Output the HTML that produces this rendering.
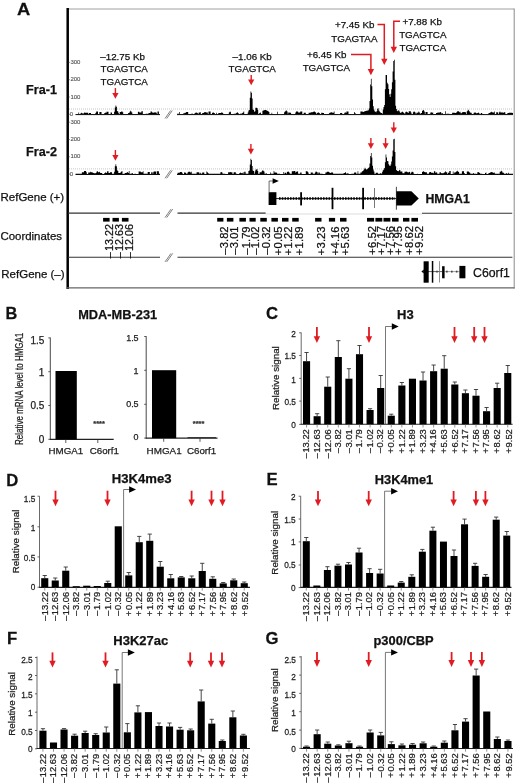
<!DOCTYPE html>
<html lang="en">
<head>
<meta charset="utf-8">
<title>Figure</title>
<style>
html,body{margin:0;padding:0;background:#fff;}
body{width:520px;height:784px;overflow:hidden;font-family:"Liberation Sans", Arial, sans-serif;}
svg{display:block;}
</style>
</head>
<body>
<svg width="520" height="784" viewBox="0 0 520 784" font-family='"Liberation Sans", Arial, sans-serif'>
<rect width="520" height="784" fill="#fff"/>
<line x1="68.00" y1="9.00" x2="514.20" y2="9.00" stroke="#a0a0a0" stroke-width="1"/>
<line x1="514.20" y1="8.50" x2="514.20" y2="288.50" stroke="#8a8a8a" stroke-width="1"/>
<line x1="67.70" y1="8.00" x2="67.70" y2="288.90" stroke="#000" stroke-width="2.5"/>
<line x1="67.00" y1="287.90" x2="514.60" y2="287.90" stroke="#666" stroke-width="1.3"/>
<text transform="translate(17.10,14.60) scale(1.080,1)" font-size="17" font-weight="bold" text-anchor="start" fill="#111" stroke="#111" stroke-width="0.25">A</text>
<text transform="translate(26.10,94.30)" font-size="12.6" font-weight="bold" text-anchor="start" fill="#111" stroke="#111" stroke-width="0.25">Fra-1</text>
<text transform="translate(26.10,156.10)" font-size="12.6" font-weight="bold" text-anchor="start" fill="#111" stroke="#111" stroke-width="0.25">Fra-2</text>
<text transform="translate(0.50,200.90)" font-size="11.5" text-anchor="start" fill="#111" stroke="#111" stroke-width="0.25">RefGene (+)</text>
<text transform="translate(0.40,240.00)" font-size="11.45" text-anchor="start" fill="#111" stroke="#111" stroke-width="0.25">Coordinates</text>
<text transform="translate(1.30,277.60)" font-size="11.5" text-anchor="start" fill="#111" stroke="#111" stroke-width="0.25">RefGene (–)</text>
<text transform="translate(122.60,59.50)" font-size="9.8" text-anchor="middle" fill="#111" stroke="#111" stroke-width="0.25">–12.75 Kb</text>
<text transform="translate(124.20,72.00)" font-size="9.8" text-anchor="middle" fill="#111" stroke="#111" stroke-width="0.25">TGAGTCA</text>
<text transform="translate(124.20,85.20)" font-size="9.8" text-anchor="middle" fill="#111" stroke="#111" stroke-width="0.25">TGAGTCA</text>
<text transform="translate(252.20,59.50)" font-size="9.8" text-anchor="middle" fill="#111" stroke="#111" stroke-width="0.25">–1.06 Kb</text>
<text transform="translate(252.20,72.00)" font-size="9.8" text-anchor="middle" fill="#111" stroke="#111" stroke-width="0.25">TGAGTCA</text>
<text transform="translate(326.70,57.50)" font-size="9.8" text-anchor="middle" fill="#111" stroke="#111" stroke-width="0.25">+6.45 Kb</text>
<text transform="translate(326.30,70.80)" font-size="9.8" text-anchor="middle" fill="#111" stroke="#111" stroke-width="0.25">TGAGTCA</text>
<text transform="translate(354.70,27.50)" font-size="9.8" text-anchor="middle" fill="#111" stroke="#111" stroke-width="0.25">+7.45 Kb</text>
<text transform="translate(354.40,41.50)" font-size="9.8" text-anchor="middle" fill="#111" stroke="#111" stroke-width="0.25">TGAGTAA</text>
<text transform="translate(422.20,24.50)" font-size="9.8" text-anchor="middle" fill="#111" stroke="#111" stroke-width="0.25">+7.88 Kb</text>
<text transform="translate(422.80,37.60)" font-size="9.8" text-anchor="middle" fill="#111" stroke="#111" stroke-width="0.25">TGAGTCA</text>
<text transform="translate(422.80,50.90)" font-size="9.8" text-anchor="middle" fill="#111" stroke="#111" stroke-width="0.25">TGACTCA</text>
<line x1="115.40" y1="88.00" x2="115.40" y2="94.00" stroke="#e01b22" stroke-width="1.4"/>
<path d="M112.30 93.00 L118.50 93.00 L115.40 98.80 Z" fill="#e01b22"/>
<line x1="251.20" y1="75.00" x2="251.20" y2="80.50" stroke="#e01b22" stroke-width="1.4"/>
<path d="M248.10 79.50 L254.30 79.50 L251.20 85.30 Z" fill="#e01b22"/>
<path d="M351.00 54.40 H370.90 V71.20" fill="none" stroke="#e01b22" stroke-width="1.5"/>
<path d="M367.70 69.00 L374.10 69.00 L370.90 75.20 Z" fill="#e01b22"/>
<path d="M377.50 24.60 H384.30 V61.00" fill="none" stroke="#e01b22" stroke-width="1.5"/>
<path d="M381.10 58.80 L387.50 58.80 L384.30 65.00 Z" fill="#e01b22"/>
<path d="M400.00 21.20 H393.80 V48.90" fill="none" stroke="#e01b22" stroke-width="1.5"/>
<path d="M390.60 46.70 L397.00 46.70 L393.80 52.90 Z" fill="#e01b22"/>
<line x1="115.40" y1="150.00" x2="115.40" y2="155.90" stroke="#e01b22" stroke-width="1.4"/>
<path d="M112.30 154.90 L118.50 154.90 L115.40 160.70 Z" fill="#e01b22"/>
<line x1="250.90" y1="144.00" x2="250.90" y2="149.80" stroke="#e01b22" stroke-width="1.4"/>
<path d="M247.80 148.80 L254.00 148.80 L250.90 154.60 Z" fill="#e01b22"/>
<line x1="370.90" y1="138.00" x2="370.90" y2="144.20" stroke="#e01b22" stroke-width="1.4"/>
<path d="M367.80 143.20 L374.00 143.20 L370.90 149.00 Z" fill="#e01b22"/>
<line x1="385.60" y1="138.00" x2="385.60" y2="144.20" stroke="#e01b22" stroke-width="1.4"/>
<path d="M382.50 143.20 L388.70 143.20 L385.60 149.00 Z" fill="#e01b22"/>
<line x1="393.80" y1="122.20" x2="393.80" y2="128.40" stroke="#e01b22" stroke-width="1.4"/>
<path d="M390.70 127.40 L396.90 127.40 L393.80 133.20 Z" fill="#e01b22"/>
<line x1="69.00" y1="109.00" x2="513.00" y2="109.00" stroke="#999" stroke-width="0.55" stroke-dasharray="1 1"/>
<path d="M75.6 114.6 H75.6 V114.10 H76.3 V113.99 H77.0 V113.99 H77.7 V113.99 H78.4 V112.49 H79.1 V114.02 H79.8 V113.98 H80.5 V113.28 H81.2 V112.82 H81.9 V113.00 H82.6 V113.89 H83.3 V113.15 H84.0 V112.48 H84.7 V112.84 H85.4 V112.84 H86.1 V112.84 H86.8 V112.76 H87.5 V112.76 H88.2 V113.94 H88.9 V112.90 H89.6 V112.90 H90.3 V112.90 H91.0 V114.06 H91.7 V114.06 H92.4 V114.06 H93.1 V114.06 H93.8 V114.08 H94.5 V114.08 H95.2 V113.16 H95.9 V112.15 H96.6 V111.00 H97.3 V111.69 H98.0 V113.92 H98.7 V113.92 H99.4 V111.89 H100.1 V111.89 H100.8 V111.89 H101.5 V113.98 H102.2 V113.98 H102.9 V113.98 H103.6 V114.04 H104.3 V113.11 H105.0 V112.52 H105.7 V113.04 H106.4 V111.83 H107.1 V111.83 H107.8 V111.83 H108.5 V113.93 H109.2 V113.93 H109.9 V113.93 H110.6 V112.41 H111.3 V112.41 H112.0 V114.03 H112.7 V114.03 H113.4 V114.03 H114.1 V111.84 H114.8 V107.44 H115.5 V105.52 H116.2 V106.82 H116.9 V110.96 H117.6 V111.61 H118.3 V113.37 H119.0 V114.10 H119.7 V112.07 H120.4 V112.07 H121.1 V111.58 H121.8 V111.58 H122.5 V112.22 H123.2 V113.95 H123.9 V113.97 H124.6 V113.97 H125.3 V113.97 H126.0 V114.11 H126.7 V114.11 H127.4 V114.11 H128.1 V113.08 H128.8 V112.88 H129.5 V111.87 H130.2 V110.80 H130.9 V111.46 H131.6 V112.41 H132.3 V113.89 H133.0 V113.89 H133.7 V114.03 H134.4 V114.03 H135.1 V114.09 H135.8 V114.09 H136.5 V113.97 H137.2 V114.10 H137.9 V111.66 H138.6 V111.66 H139.3 V112.44 H140.0 V112.44 H140.7 V112.44 H141.4 V111.21 H142.1 V111.21 H142.8 V113.93 H143.5 V113.93 H144.2 V113.93 H144.9 V113.94 H145.6 V113.86 H146.3 V113.86 H147.0 V113.86 H147.7 V113.99 H148.4 V113.10 H149.1 V113.10 H149.8 V113.10 H150.5 V111.56 H151.2 V111.56 H151.9 V112.49 H152.6 V112.49 H153.3 V112.87 H154.0 V112.52 H154.7 V112.29 H155.4 V112.42 H156.1 V112.66 H156.8 V114.00 H157.5 V111.45 H158.2 V111.45 H158.9 V113.94 H159.6 V113.94 H160.0 V114.6 Z" fill="#000"/>
<path d="M177.0 114.6 H177.0 V113.87 H177.7 V113.87 H178.4 V113.87 H179.1 V111.96 H179.8 V114.01 H180.5 V114.01 H181.2 V114.01 H181.9 V113.96 H182.6 V113.95 H183.3 V113.28 H184.0 V113.28 H184.7 V112.65 H185.4 V112.65 H186.1 V111.88 H186.8 V111.88 H187.5 V111.88 H188.2 V113.91 H188.9 V113.91 H189.6 V113.91 H190.3 V113.91 H191.0 V113.93 H191.7 V113.23 H192.4 V113.97 H193.1 V113.97 H193.8 V113.97 H194.5 V113.18 H195.2 V112.76 H195.9 V112.45 H196.6 V112.67 H197.3 V113.22 H198.0 V113.86 H198.7 V112.47 H199.4 V112.47 H200.1 V112.17 H200.8 V114.09 H201.5 V114.09 H202.2 V113.07 H202.9 V113.07 H203.6 V112.65 H204.3 V111.98 H205.0 V111.98 H205.7 V112.57 H206.4 V112.57 H207.1 V112.57 H207.8 V114.10 H208.5 V111.47 H209.2 V111.47 H209.9 V111.47 H210.6 V113.91 H211.3 V113.91 H212.0 V113.02 H212.7 V112.29 H213.4 V112.66 H214.1 V113.11 H214.8 V113.99 H215.5 V114.07 H216.2 V112.84 H216.9 V113.97 H217.6 V113.97 H218.3 V112.95 H219.0 V112.95 H219.7 V112.95 H220.4 V112.89 H221.1 V112.52 H221.8 V112.52 H222.5 V113.06 H223.2 V114.02 H223.9 V114.02 H224.6 V114.02 H225.3 V114.13 H226.0 V114.13 H226.7 V114.09 H227.4 V114.09 H228.1 V114.09 H228.8 V112.50 H229.5 V111.63 H230.2 V111.63 H230.9 V113.89 H231.6 V113.89 H232.3 V113.89 H233.0 V113.89 H233.7 V113.86 H234.4 V113.86 H235.1 V113.86 H235.8 V113.13 H236.5 V112.72 H237.2 V112.35 H237.9 V112.99 H238.6 V114.04 H239.3 V114.04 H240.0 V114.04 H240.7 V112.96 H241.4 V113.99 H242.1 V113.01 H242.8 V112.40 H243.5 V111.45 H244.2 V113.88 H244.9 V113.88 H245.6 V114.11 H246.3 V114.11 H247.0 V114.11 H247.7 V112.56 H248.4 V110.53 H249.1 V109.95 H249.8 V97.66 H250.5 V91.58 H251.2 V92.85 H251.9 V98.39 H252.6 V109.56 H253.3 V109.92 H254.0 V111.86 H254.7 V111.17 H255.4 V107.71 H256.1 V107.70 H256.8 V108.01 H257.5 V109.68 H258.2 V114.06 H258.9 V113.22 H259.6 V113.22 H260.3 V112.41 H261.0 V113.93 H261.7 V113.93 H262.4 V110.76 H263.1 V110.41 H263.8 V110.13 H264.5 V110.00 H265.2 V109.94 H265.9 V110.28 H266.6 V110.59 H267.3 V110.94 H268.0 V111.25 H268.7 V111.88 H269.4 V113.90 H270.1 V113.90 H270.8 V113.90 H271.5 V112.71 H272.2 V114.10 H272.9 V114.10 H273.6 V114.10 H274.3 V114.10 H275.0 V114.04 H275.7 V114.04 H276.4 V114.04 H277.1 V111.74 H277.8 V113.89 H278.5 V113.89 H279.2 V114.15 H279.9 V114.15 H280.6 V114.15 H281.3 V114.15 H282.0 V114.07 H282.7 V114.07 H283.4 V113.92 H284.1 V112.19 H284.8 V111.45 H285.5 V110.69 H286.2 V110.54 H286.9 V111.40 H287.6 V113.86 H288.3 V112.52 H289.0 V112.52 H289.7 V112.68 H290.4 V112.68 H291.1 V113.93 H291.8 V113.93 H292.5 V113.90 H293.2 V113.90 H293.9 V113.90 H294.6 V113.90 H295.3 V112.59 H296.0 V111.50 H296.7 V111.50 H297.4 V111.50 H298.1 V112.60 H298.8 V112.60 H299.5 V112.60 H300.2 V111.58 H300.9 V111.58 H301.6 V111.58 H302.3 V113.96 H303.0 V114.01 H303.7 V112.77 H304.4 V112.77 H305.1 V112.77 H305.8 V114.07 H306.5 V114.07 H307.2 V114.07 H307.9 V114.07 H308.6 V112.65 H309.3 V112.65 H310.0 V112.65 H310.7 V112.29 H311.4 V112.29 H312.1 V112.29 H312.8 V111.90 H313.5 V111.47 H314.2 V111.41 H314.9 V111.94 H315.6 V112.68 H316.3 V114.04 H317.0 V113.07 H317.7 V112.41 H318.4 V112.46 H319.1 V112.96 H319.8 V113.98 H320.5 V114.00 H321.2 V112.72 H321.9 V112.72 H322.6 V113.11 H323.3 V113.11 H324.0 V114.11 H324.7 V114.11 H325.4 V114.12 H326.1 V114.12 H326.8 V114.12 H327.5 V114.12 H328.2 V114.01 H328.9 V113.22 H329.6 V112.84 H330.3 V112.58 H331.0 V112.31 H331.7 V112.45 H332.4 V112.77 H333.1 V112.77 H333.8 V111.56 H334.5 V113.89 H335.2 V113.89 H335.9 V113.89 H336.6 V113.89 H337.3 V114.15 H338.0 V114.15 H338.7 V114.15 H339.4 V114.15 H340.1 V112.99 H340.8 V112.99 H341.5 V112.99 H342.2 V114.05 H342.9 V114.05 H343.6 V114.05 H344.3 V112.82 H345.0 V112.17 H345.7 V113.02 H346.4 V111.54 H347.1 V111.54 H347.8 V111.54 H348.5 V114.04 H349.2 V114.04 H349.9 V114.04 H350.6 V114.04 H351.3 V113.89 H352.0 V114.02 H352.7 V114.02 H353.4 V114.02 H354.1 V112.06 H354.8 V113.11 H355.5 V114.07 H356.2 V114.07 H356.9 V114.07 H357.6 V114.04 H358.3 V114.04 H359.0 V114.04 H359.7 V114.04 H360.4 V111.43 H361.1 V111.43 H361.8 V111.43 H362.5 V111.74 H363.2 V111.94 H363.9 V111.48 H364.6 V111.17 H365.3 V111.04 H366.0 V110.87 H366.7 V110.69 H367.4 V110.53 H368.1 V110.30 H368.8 V108.50 H369.5 V100.88 H370.2 V84.61 H370.9 V78.81 H371.6 V86.33 H372.3 V99.49 H373.0 V106.20 H373.7 V109.44 H374.4 V111.13 H375.1 V111.73 H375.8 V112.22 H376.5 V110.89 H377.2 V108.67 H377.9 V108.24 H378.6 V110.61 H379.3 V111.44 H380.0 V112.14 H380.7 V112.97 H381.4 V112.97 H382.1 V113.63 H382.8 V109.60 H383.5 V106.98 H384.2 V104.99 H384.9 V89.33 H385.6 V74.92 H386.3 V74.99 H387.0 V82.78 H387.7 V84.28 H388.4 V88.95 H389.1 V94.19 H389.8 V96.95 H390.5 V93.80 H391.2 V89.33 H391.9 V82.22 H392.6 V71.59 H393.3 V61.05 H394.0 V59.67 H394.7 V79.79 H395.4 V105.64 H396.1 V108.98 H396.8 V110.68 H397.5 V111.34 H398.2 V110.30 H398.9 V110.82 H399.6 V112.32 H400.3 V112.90 H401.0 V112.45 H401.7 V111.74 H402.4 V111.68 H403.1 V112.57 H403.8 V113.11 H404.5 V114.02 H405.2 V112.21 H405.9 V111.51 H406.6 V112.00 H407.3 V112.61 H408.0 V112.98 H408.7 V111.34 H409.4 V111.34 H410.1 V111.34 H410.8 V112.57 H411.5 V113.95 H412.2 V113.95 H412.9 V112.36 H413.6 V111.59 H414.3 V111.68 H415.0 V112.49 H415.7 V114.02 H416.4 V112.64 H417.1 V112.64 H417.8 V112.56 H418.5 V111.48 H419.2 V112.52 H419.9 V113.90 H420.6 V112.95 H421.3 V112.95 H422.0 V110.88 H422.7 V110.01 H423.4 V110.20 H424.1 V111.49 H424.8 V113.96 H425.5 V112.09 H426.2 V112.09 H426.9 V112.09 H427.6 V113.97 H428.3 V113.97 H429.0 V113.97 H429.7 V113.86 H430.4 V112.53 H431.1 V112.32 H431.8 V112.79 H432.5 V112.59 H433.2 V114.08 H433.9 V114.08 H434.6 V114.08 H435.3 V114.08 H436.0 V112.93 H436.7 V112.93 H437.4 V112.49 H438.1 V112.49 H438.8 V112.87 H439.5 V112.33 H440.2 V111.99 H440.9 V112.68 H441.6 V114.05 H442.3 V113.01 H443.0 V114.13 H443.7 V113.99 H444.4 V113.99 H445.1 V111.34 H445.8 V114.12 H446.5 V113.85 H447.2 V113.85 H447.9 V113.85 H448.6 V113.85 H449.3 V114.11 H450.0 V114.11 H450.7 V114.11 H451.4 V114.11 H452.1 V112.73 H452.8 V112.73 H453.5 V112.73 H454.2 V112.63 H454.9 V113.11 H455.6 V113.11 H456.3 V112.22 H457.0 V111.44 H457.7 V110.95 H458.4 V111.51 H459.1 V112.15 H459.8 V111.79 H460.5 V113.30 H461.2 V113.30 H461.9 V112.28 H462.6 V112.28 H463.3 V112.12 H464.0 V112.12 H464.7 V112.35 H465.4 V112.35 H466.1 V114.13 H466.8 V111.22 H467.5 V110.42 H468.2 V109.82 H468.9 V110.95 H469.6 V112.30 H470.3 V112.69 H471.0 V112.69 H471.7 V114.04 H472.4 V114.04 H473.1 V113.85 H473.8 V112.75 H474.5 V112.58 H475.2 V112.58 H475.9 V113.21 H476.6 V113.21 H477.3 V112.88 H478.0 V112.51 H478.7 V113.02 H479.4 V114.14 H480.1 V113.98 H480.8 V113.00 H481.5 V113.00 H482.2 V114.07 H482.9 V114.07 H483.6 V114.07 H484.3 V114.13 H485.0 V114.13 H485.7 V114.13 H486.4 V114.14 H487.1 V114.14 H487.8 V114.14 H488.5 V113.01 H489.2 V112.90 H489.9 V112.62 H490.6 V112.32 H491.3 V111.74 H492.0 V112.18 H492.7 V112.44 H493.4 V112.49 H494.1 V111.52 H494.8 V114.07 H495.5 V114.07 H496.2 V112.27 H496.9 V112.27 H497.6 V112.61 H498.3 V113.90 H499.0 V111.82 H499.7 V112.76 H500.4 V111.66 H501.1 V112.54 H501.8 V112.54 H502.5 V112.54 H503.2 V112.79 H503.9 V112.21 H504.6 V112.21 H505.3 V113.93 H506.0 V113.93 H506.7 V113.98 H507.4 V113.08 H508.1 V113.08 H508.8 V112.85 H509.5 V112.85 H510.2 V112.85 H510.9 V112.75 H511.6 V112.75 H512.3 V112.97 H513.0 V112.97 H513.0 V114.6 Z" fill="#000"/>
<text transform="translate(69.80,115.90) scale(1.300,1)" font-size="4.6" text-anchor="start" fill="#555" stroke="#555" stroke-width="0.1">0</text>
<line x1="68.50" y1="114.30" x2="69.80" y2="114.30" stroke="#333" stroke-width="0.6"/>
<text transform="translate(70.40,98.60) scale(1.300,1)" font-size="4.6" text-anchor="start" fill="#555" stroke="#555" stroke-width="0.1">100</text>
<line x1="68.50" y1="97.00" x2="69.80" y2="97.00" stroke="#333" stroke-width="0.6"/>
<text transform="translate(70.40,81.30) scale(1.300,1)" font-size="4.6" text-anchor="start" fill="#555" stroke="#555" stroke-width="0.1">200</text>
<line x1="68.50" y1="79.70" x2="69.80" y2="79.70" stroke="#333" stroke-width="0.6"/>
<text transform="translate(70.40,64.00) scale(1.300,1)" font-size="4.6" text-anchor="start" fill="#555" stroke="#555" stroke-width="0.1">300</text>
<line x1="68.50" y1="62.40" x2="69.80" y2="62.40" stroke="#333" stroke-width="0.6"/>
<line x1="165.00" y1="118.50" x2="170.60" y2="110.50" stroke="#555" stroke-width="0.75"/>
<line x1="166.70" y1="118.50" x2="172.30" y2="110.50" stroke="#555" stroke-width="0.75"/>
<line x1="75.60" y1="114.60" x2="160.00" y2="114.60" stroke="#000" stroke-width="0.9"/>
<line x1="177.00" y1="114.60" x2="513.00" y2="114.60" stroke="#000" stroke-width="0.9"/>
<line x1="69.00" y1="168.90" x2="513.00" y2="168.90" stroke="#999" stroke-width="0.55" stroke-dasharray="1 1"/>
<path d="M75.6 174.4 H75.6 V173.78 H76.3 V173.78 H77.0 V173.78 H77.7 V173.78 H78.4 V173.69 H79.1 V173.69 H79.8 V173.80 H80.5 V173.80 H81.2 V173.86 H81.9 V172.31 H82.6 V172.31 H83.3 V172.31 H84.0 V171.04 H84.7 V171.04 H85.4 V171.04 H86.1 V172.37 H86.8 V173.89 H87.5 V173.89 H88.2 V172.42 H88.9 V172.42 H89.6 V172.57 H90.3 V171.67 H91.0 V172.12 H91.7 V172.74 H92.4 V172.27 H93.1 V172.88 H93.8 V173.17 H94.5 V173.17 H95.2 V173.17 H95.9 V172.80 H96.6 V171.57 H97.3 V171.18 H98.0 V172.14 H98.7 V172.14 H99.4 V171.72 H100.1 V173.00 H100.8 V173.00 H101.5 V173.00 H102.2 V173.92 H102.9 V173.92 H103.6 V173.92 H104.3 V173.03 H105.0 V172.18 H105.7 V173.01 H106.4 V172.75 H107.1 V171.28 H107.8 V171.28 H108.5 V173.08 H109.2 V173.08 H109.9 V172.20 H110.6 V172.20 H111.3 V172.20 H112.0 V173.68 H112.7 V173.68 H113.4 V173.65 H114.1 V171.67 H114.8 V166.17 H115.5 V164.37 H116.2 V166.33 H116.9 V170.35 H117.6 V170.98 H118.3 V173.00 H119.0 V173.07 H119.7 V173.07 H120.4 V172.33 H121.1 V171.40 H121.8 V171.29 H122.5 V173.89 H123.2 V173.81 H123.9 V173.92 H124.6 V172.94 H125.3 V172.94 H126.0 V172.94 H126.7 V172.27 H127.4 V172.36 H128.1 V172.94 H128.8 V171.03 H129.5 V173.78 H130.2 V173.67 H130.9 V173.67 H131.6 V173.13 H132.3 V173.13 H133.0 V173.93 H133.7 V173.93 H134.4 V173.79 H135.1 V173.79 H135.8 V173.91 H136.5 V173.91 H137.2 V173.91 H137.9 V173.91 H138.6 V171.41 H139.3 V171.41 H140.0 V171.41 H140.7 V172.25 H141.4 V172.25 H142.1 V172.25 H142.8 V171.36 H143.5 V173.76 H144.2 V173.76 H144.9 V173.76 H145.6 V173.76 H146.3 V173.86 H147.0 V173.86 H147.7 V172.11 H148.4 V172.11 H149.1 V172.11 H149.8 V173.94 H150.5 V173.94 H151.2 V172.28 H151.9 V172.28 H152.6 V173.81 H153.3 V171.70 H154.0 V171.51 H154.7 V171.51 H155.4 V171.51 H156.1 V173.92 H156.8 V171.14 H157.5 V171.14 H158.2 V171.14 H158.9 V173.67 H159.6 V173.67 H160.0 V174.4 Z" fill="#000"/>
<path d="M177.0 174.4 H177.0 V173.70 H177.7 V172.69 H178.4 V172.69 H179.1 V172.72 H179.8 V172.06 H180.5 V172.06 H181.2 V172.06 H181.9 V172.71 H182.6 V173.91 H183.3 V173.91 H184.0 V172.45 H184.7 V172.45 H185.4 V172.76 H186.1 V173.75 H186.8 V173.75 H187.5 V172.40 H188.2 V171.74 H188.9 V171.74 H189.6 V171.74 H190.3 V172.45 H191.0 V171.87 H191.7 V173.67 H192.4 V173.67 H193.1 V173.67 H193.8 V173.67 H194.5 V173.79 H195.2 V173.79 H195.9 V173.79 H196.6 V172.36 H197.3 V172.36 H198.0 V172.14 H198.7 V172.51 H199.4 V173.84 H200.1 V172.79 H200.8 V173.70 H201.5 V173.70 H202.2 V172.40 H202.9 V172.40 H203.6 V172.40 H204.3 V173.92 H205.0 V173.92 H205.7 V173.92 H206.4 V171.38 H207.1 V172.20 H207.8 V173.03 H208.5 V173.74 H209.2 V173.74 H209.9 V173.72 H210.6 V173.72 H211.3 V173.71 H212.0 V173.71 H212.7 V173.67 H213.4 V173.67 H214.1 V173.67 H214.8 V173.67 H215.5 V173.81 H216.2 V173.78 H216.9 V173.78 H217.6 V173.78 H218.3 V173.75 H219.0 V173.75 H219.7 V173.69 H220.4 V172.29 H221.1 V171.99 H221.8 V172.41 H222.5 V173.80 H223.2 V173.78 H223.9 V173.78 H224.6 V173.78 H225.3 V173.94 H226.0 V173.94 H226.7 V173.94 H227.4 V173.94 H228.1 V172.28 H228.8 V172.28 H229.5 V172.25 H230.2 V171.90 H230.9 V172.48 H231.6 V172.10 H232.3 V173.78 H233.0 V173.78 H233.7 V172.36 H234.4 V172.36 H235.1 V172.36 H235.8 V173.75 H236.5 V173.75 H237.2 V173.91 H237.9 V173.91 H238.6 V173.91 H239.3 V173.00 H240.0 V172.50 H240.7 V172.96 H241.4 V173.16 H242.1 V173.16 H242.8 V172.21 H243.5 V173.74 H244.2 V171.65 H244.9 V171.65 H245.6 V173.81 H246.3 V173.81 H247.0 V173.68 H247.7 V173.68 H248.4 V170.88 H249.1 V170.45 H249.8 V164.38 H250.5 V158.84 H251.2 V159.88 H251.9 V166.12 H252.6 V170.40 H253.3 V171.05 H254.0 V173.73 H254.7 V171.45 H255.4 V169.74 H256.1 V169.44 H256.8 V169.13 H257.5 V170.90 H258.2 V173.84 H258.9 V173.84 H259.6 V172.34 H260.3 V172.34 H261.0 V172.34 H261.7 V170.90 H262.4 V170.29 H263.1 V170.71 H263.8 V171.38 H264.5 V173.67 H265.2 V173.67 H265.9 V173.01 H266.6 V173.88 H267.3 V173.92 H268.0 V173.92 H268.7 V173.92 H269.4 V173.92 H270.1 V172.50 H270.8 V173.74 H271.5 V173.78 H272.2 V173.78 H272.9 V173.78 H273.6 V171.04 H274.3 V172.57 H275.0 V172.57 H275.7 V172.51 H276.4 V172.72 H277.1 V173.78 H277.8 V173.78 H278.5 V173.78 H279.2 V173.78 H279.9 V173.89 H280.6 V173.89 H281.3 V173.90 H282.0 V173.90 H282.7 V173.90 H283.4 V172.09 H284.1 V173.75 H284.8 V172.87 H285.5 V172.87 H286.2 V173.84 H286.9 V172.00 H287.6 V171.52 H288.3 V171.86 H289.0 V172.52 H289.7 V173.71 H290.4 V173.71 H291.1 V173.71 H291.8 V171.24 H292.5 V171.24 H293.2 V171.24 H293.9 V171.11 H294.6 V171.11 H295.3 V172.39 H296.0 V171.73 H296.7 V171.73 H297.4 V171.31 H298.1 V173.68 H298.8 V173.68 H299.5 V173.68 H300.2 V172.43 H300.9 V172.43 H301.6 V173.89 H302.3 V173.89 H303.0 V173.89 H303.7 V173.92 H304.4 V173.92 H305.1 V173.92 H305.8 V171.12 H306.5 V171.40 H307.2 V171.40 H307.9 V172.46 H308.6 V173.93 H309.3 V173.93 H310.0 V173.93 H310.7 V172.44 H311.4 V172.44 H312.1 V172.44 H312.8 V173.77 H313.5 V173.77 H314.2 V173.83 H314.9 V172.55 H315.6 V171.55 H316.3 V171.65 H317.0 V172.17 H317.7 V173.68 H318.4 V172.39 H319.1 V172.53 H319.8 V173.67 H320.5 V173.67 H321.2 V173.67 H321.9 V173.67 H322.6 V173.90 H323.3 V173.90 H324.0 V173.90 H324.7 V173.90 H325.4 V172.60 H326.1 V172.60 H326.8 V171.70 H327.5 V171.70 H328.2 V171.70 H328.9 V172.31 H329.6 V172.72 H330.3 V172.90 H331.0 V172.61 H331.7 V172.61 H332.4 V172.61 H333.1 V173.72 H333.8 V173.72 H334.5 V173.72 H335.2 V173.72 H335.9 V173.86 H336.6 V173.86 H337.3 V173.86 H338.0 V173.86 H338.7 V173.65 H339.4 V173.65 H340.1 V173.65 H340.8 V173.68 H341.5 V173.68 H342.2 V173.68 H342.9 V173.68 H343.6 V172.95 H344.3 V172.93 H345.0 V172.12 H345.7 V172.90 H346.4 V173.92 H347.1 V173.15 H347.8 V173.15 H348.5 V173.89 H349.2 V173.90 H349.9 V173.90 H350.6 V173.90 H351.3 V173.75 H352.0 V173.75 H352.7 V173.75 H353.4 V173.75 H354.1 V172.56 H354.8 V172.56 H355.5 V172.56 H356.2 V173.72 H356.9 V173.72 H357.6 V171.32 H358.3 V173.80 H359.0 V173.80 H359.7 V173.80 H360.4 V172.58 H361.1 V172.58 H361.8 V171.49 H362.5 V170.94 H363.2 V170.37 H363.9 V169.20 H364.6 V167.81 H365.3 V168.87 H366.0 V169.57 H366.7 V169.18 H367.4 V168.81 H368.1 V168.02 H368.8 V167.28 H369.5 V163.39 H370.2 V156.12 H370.9 V153.08 H371.6 V157.60 H372.3 V165.65 H373.0 V169.60 H373.7 V171.49 H374.4 V173.78 H375.1 V173.69 H375.8 V172.77 H376.5 V172.77 H377.2 V172.77 H377.9 V173.74 H378.6 V173.74 H379.3 V173.74 H380.0 V173.19 H380.7 V173.19 H381.4 V173.75 H382.1 V171.67 H382.8 V170.26 H383.5 V169.39 H384.2 V168.07 H384.9 V162.13 H385.6 V154.46 H386.3 V157.57 H387.0 V161.05 H387.7 V161.34 H388.4 V164.33 H389.1 V165.42 H389.8 V165.91 H390.5 V164.54 H391.2 V161.53 H391.9 V156.60 H392.6 V150.52 H393.3 V139.23 H394.0 V138.70 H394.7 V151.94 H395.4 V166.31 H396.1 V169.93 H396.8 V170.76 H397.5 V171.01 H398.2 V171.13 H398.9 V170.26 H399.6 V170.10 H400.3 V171.47 H401.0 V171.39 H401.7 V171.39 H402.4 V173.13 H403.1 V173.13 H403.8 V173.13 H404.5 V171.71 H405.2 V171.71 H405.9 V171.39 H406.6 V171.75 H407.3 V172.23 H408.0 V172.40 H408.7 V171.91 H409.4 V171.75 H410.1 V173.83 H410.8 V172.73 H411.5 V171.85 H412.2 V171.68 H412.9 V172.29 H413.6 V173.73 H414.3 V173.93 H415.0 V173.93 H415.7 V173.93 H416.4 V173.93 H417.1 V173.81 H417.8 V173.89 H418.5 V173.89 H419.2 V173.89 H419.9 V173.88 H420.6 V173.88 H421.3 V173.88 H422.0 V172.09 H422.7 V171.43 H423.4 V171.24 H424.1 V172.06 H424.8 V172.26 H425.5 V172.26 H426.2 V172.26 H426.9 V173.87 H427.6 V173.87 H428.3 V173.87 H429.0 V172.46 H429.7 V172.02 H430.4 V171.96 H431.1 V172.72 H431.8 V172.68 H432.5 V172.68 H433.2 V173.14 H433.9 V171.15 H434.6 V171.15 H435.3 V172.66 H436.0 V172.27 H436.7 V172.80 H437.4 V173.88 H438.1 V173.87 H438.8 V173.87 H439.5 V172.21 H440.2 V172.21 H440.9 V173.15 H441.6 V173.15 H442.3 V173.15 H443.0 V173.20 H443.7 V172.81 H444.4 V172.25 H445.1 V171.37 H445.8 V172.34 H446.5 V172.34 H447.2 V173.89 H447.9 V172.76 H448.6 V172.67 H449.3 V171.04 H450.0 V171.04 H450.7 V173.93 H451.4 V173.93 H452.1 V173.93 H452.8 V171.40 H453.5 V173.74 H454.2 V172.52 H454.9 V172.52 H455.6 V171.98 H456.3 V171.21 H457.0 V170.63 H457.7 V171.45 H458.4 V172.00 H459.1 V173.65 H459.8 V173.76 H460.5 V173.76 H461.2 V173.76 H461.9 V171.29 H462.6 V171.29 H463.3 V171.29 H464.0 V172.94 H464.7 V173.92 H465.4 V173.92 H466.1 V173.92 H466.8 V171.52 H467.5 V171.52 H468.2 V171.52 H468.9 V172.22 H469.6 V172.78 H470.3 V173.83 H471.0 V173.83 H471.7 V173.83 H472.4 V173.83 H473.1 V173.11 H473.8 V173.65 H474.5 V173.65 H475.2 V173.65 H475.9 V173.65 H476.6 V173.93 H477.3 V172.18 H478.0 V171.95 H478.7 V172.46 H479.4 V172.97 H480.1 V173.74 H480.8 V173.74 H481.5 V173.74 H482.2 V173.95 H482.9 V173.95 H483.6 V173.95 H484.3 V173.95 H485.0 V172.88 H485.7 V172.59 H486.4 V173.89 H487.1 V173.89 H487.8 V173.89 H488.5 V173.09 H489.2 V172.90 H489.9 V172.48 H490.6 V172.21 H491.3 V172.01 H492.0 V172.23 H492.7 V172.50 H493.4 V172.95 H494.1 V172.42 H494.8 V173.78 H495.5 V173.78 H496.2 V173.78 H496.9 V173.67 H497.6 V173.67 H498.3 V173.67 H499.0 V173.69 H499.7 V171.71 H500.4 V171.38 H501.1 V170.75 H501.8 V171.61 H502.5 V172.64 H503.2 V172.64 H503.9 V173.73 H504.6 V173.73 H505.3 V173.73 H506.0 V173.08 H506.7 V173.68 H507.4 V173.68 H508.1 V172.84 H508.8 V173.79 H509.5 V173.83 H510.2 V173.83 H510.9 V173.75 H511.6 V173.75 H512.3 V173.75 H513.0 V173.75 H513.0 V174.4 Z" fill="#000"/>
<text transform="translate(69.80,175.70) scale(1.300,1)" font-size="4.6" text-anchor="start" fill="#555" stroke="#555" stroke-width="0.1">0</text>
<line x1="68.50" y1="174.10" x2="69.80" y2="174.10" stroke="#333" stroke-width="0.6"/>
<text transform="translate(70.40,158.40) scale(1.300,1)" font-size="4.6" text-anchor="start" fill="#555" stroke="#555" stroke-width="0.1">100</text>
<line x1="68.50" y1="156.80" x2="69.80" y2="156.80" stroke="#333" stroke-width="0.6"/>
<text transform="translate(70.40,141.10) scale(1.300,1)" font-size="4.6" text-anchor="start" fill="#555" stroke="#555" stroke-width="0.1">200</text>
<line x1="68.50" y1="139.50" x2="69.80" y2="139.50" stroke="#333" stroke-width="0.6"/>
<text transform="translate(70.40,123.80) scale(1.300,1)" font-size="4.6" text-anchor="start" fill="#555" stroke="#555" stroke-width="0.1">300</text>
<line x1="68.50" y1="122.20" x2="69.80" y2="122.20" stroke="#333" stroke-width="0.6"/>
<line x1="165.00" y1="178.30" x2="170.60" y2="170.30" stroke="#555" stroke-width="0.75"/>
<line x1="166.70" y1="178.30" x2="172.30" y2="170.30" stroke="#555" stroke-width="0.75"/>
<line x1="75.60" y1="174.50" x2="160.00" y2="174.50" stroke="#000" stroke-width="0.9"/>
<line x1="177.00" y1="174.50" x2="513.00" y2="174.50" stroke="#000" stroke-width="0.9"/>
<line x1="68.00" y1="213.10" x2="160.00" y2="213.10" stroke="#333" stroke-width="1.1"/>
<line x1="177.50" y1="213.10" x2="265.70" y2="213.10" stroke="#333" stroke-width="1.1"/>
<line x1="265.70" y1="214.00" x2="422.00" y2="214.00" stroke="#ddd" stroke-width="1"/>
<line x1="422.00" y1="213.30" x2="512.20" y2="213.30" stroke="#333" stroke-width="1.1"/>
<line x1="68.00" y1="257.30" x2="160.00" y2="257.30" stroke="#333" stroke-width="1.1"/>
<line x1="177.50" y1="257.30" x2="512.40" y2="257.30" stroke="#333" stroke-width="1.1"/>
<line x1="165.00" y1="217.60" x2="171.00" y2="209.10" stroke="#555" stroke-width="0.75"/>
<line x1="166.70" y1="217.60" x2="172.70" y2="209.10" stroke="#555" stroke-width="0.75"/>
<line x1="165.00" y1="261.90" x2="171.00" y2="253.40" stroke="#555" stroke-width="0.75"/>
<line x1="166.70" y1="261.90" x2="172.70" y2="253.40" stroke="#555" stroke-width="0.75"/>
<line x1="276.00" y1="198.60" x2="396.00" y2="198.60" stroke="#000" stroke-width="0.9"/>
<line x1="279" y1="198.6" x2="395" y2="198.6" stroke="#000" stroke-width="2.5" stroke-dasharray="1.6 1.15"/>
<rect x="268.60" y="192.20" width="7.80" height="12.80" fill="#000"/>
<path d="M269.1 192.2 V181 H273" fill="none" stroke="#444" stroke-width="0.8"/>
<path d="M272.6 178.2 L278.8 181 L272.6 183.8 Z" fill="#000"/>
<rect x="300.20" y="192.20" width="1.80" height="13.20" fill="#000"/>
<rect x="331.60" y="187.80" width="1.80" height="21.40" fill="#000"/>
<rect x="362.20" y="187.80" width="1.80" height="21.40" fill="#000"/>
<rect x="374.20" y="188.00" width="0.80" height="20.00" fill="#555"/>
<rect x="395.90" y="186.80" width="0.90" height="22.90" fill="#333"/>
<path d="M396.3 191.3 H411.4 L418.8 198.4 L411.4 205.6 H396.3 Z" fill="#000"/>
<text transform="translate(425.40,202.70)" font-size="12.3" font-weight="bold" text-anchor="start" fill="#111" stroke="#111" stroke-width="0.25">HMGA1</text>
<rect x="103.10" y="217.90" width="6.50" height="3.70" fill="#000"/>
<rect x="112.50" y="217.90" width="6.40" height="3.70" fill="#000"/>
<rect x="121.90" y="217.90" width="6.60" height="3.70" fill="#000"/>
<rect x="217.20" y="217.90" width="6.20" height="3.70" fill="#000"/>
<rect x="226.90" y="217.90" width="6.50" height="3.70" fill="#000"/>
<rect x="239.40" y="217.90" width="6.50" height="3.70" fill="#000"/>
<rect x="249.50" y="217.90" width="6.20" height="3.70" fill="#000"/>
<rect x="260.30" y="217.90" width="6.50" height="3.70" fill="#000"/>
<rect x="271.40" y="217.90" width="6.50" height="3.70" fill="#000"/>
<rect x="282.00" y="217.90" width="6.50" height="3.70" fill="#000"/>
<rect x="292.20" y="217.90" width="6.50" height="3.70" fill="#000"/>
<rect x="315.10" y="217.90" width="6.40" height="3.70" fill="#000"/>
<rect x="328.90" y="217.90" width="6.20" height="3.70" fill="#000"/>
<rect x="340.00" y="217.90" width="6.50" height="3.70" fill="#000"/>
<rect x="367.00" y="217.90" width="7.10" height="3.70" fill="#000"/>
<rect x="375.40" y="217.90" width="6.90" height="3.70" fill="#000"/>
<rect x="383.50" y="217.90" width="6.90" height="3.70" fill="#000"/>
<rect x="392.00" y="217.90" width="6.60" height="3.70" fill="#000"/>
<rect x="403.00" y="217.90" width="6.40" height="3.70" fill="#000"/>
<rect x="411.40" y="217.90" width="6.60" height="3.70" fill="#000"/>
<text transform="translate(113.00,224.00) rotate(-90)" font-size="10.8" text-anchor="end" fill="#111" stroke="#111" stroke-width="0.25">–<tspan dx="1.2">13.22</tspan></text>
<text transform="translate(123.00,224.00) rotate(-90)" font-size="10.8" text-anchor="end" fill="#111" stroke="#111" stroke-width="0.25">–<tspan dx="1.2">12.63</tspan></text>
<text transform="translate(133.00,224.00) rotate(-90)" font-size="10.8" text-anchor="end" fill="#111" stroke="#111" stroke-width="0.25">–<tspan dx="1.2">12.06</tspan></text>
<text transform="translate(227.50,226.40) rotate(-90)" font-size="11.2" text-anchor="end" fill="#111" stroke="#111" stroke-width="0.25">–<tspan dx="0.3">3.82</tspan></text>
<text transform="translate(237.70,226.40) rotate(-90)" font-size="11.2" text-anchor="end" fill="#111" stroke="#111" stroke-width="0.25">–<tspan dx="0.3">3.01</tspan></text>
<text transform="translate(250.10,226.40) rotate(-90)" font-size="11.2" text-anchor="end" fill="#111" stroke="#111" stroke-width="0.25">–<tspan dx="0.3">1.79</tspan></text>
<text transform="translate(259.30,226.40) rotate(-90)" font-size="11.2" text-anchor="end" fill="#111" stroke="#111" stroke-width="0.25">–<tspan dx="0.3">1.02</tspan></text>
<text transform="translate(270.10,226.40) rotate(-90)" font-size="11.2" text-anchor="end" fill="#111" stroke="#111" stroke-width="0.25">–<tspan dx="0.3">0.32</tspan></text>
<text transform="translate(281.70,226.40) rotate(-90)" font-size="11.3" text-anchor="end" fill="#111" stroke="#111" stroke-width="0.25">+<tspan dx="0.5">0.05</tspan></text>
<text transform="translate(292.30,226.40) rotate(-90)" font-size="11.3" text-anchor="end" fill="#111" stroke="#111" stroke-width="0.25">+<tspan dx="0.5">1.22</tspan></text>
<text transform="translate(302.90,226.40) rotate(-90)" font-size="11.3" text-anchor="end" fill="#111" stroke="#111" stroke-width="0.25">+<tspan dx="0.5">1.89</tspan></text>
<text transform="translate(324.90,226.40) rotate(-90)" font-size="11.3" text-anchor="end" fill="#111" stroke="#111" stroke-width="0.25">+<tspan dx="0.5">3.23</tspan></text>
<text transform="translate(338.70,226.40) rotate(-90)" font-size="11.3" text-anchor="end" fill="#111" stroke="#111" stroke-width="0.25">+<tspan dx="0.5">4.16</tspan></text>
<text transform="translate(349.30,226.40) rotate(-90)" font-size="11.3" text-anchor="end" fill="#111" stroke="#111" stroke-width="0.25">+<tspan dx="0.5">5.63</tspan></text>
<text transform="translate(376.10,225.90) rotate(-90)" font-size="11.3" text-anchor="end" fill="#111" stroke="#111" stroke-width="0.25">+<tspan dx="0.5">6.52</tspan></text>
<text transform="translate(385.10,225.90) rotate(-90)" font-size="11.3" text-anchor="end" fill="#111" stroke="#111" stroke-width="0.25">+<tspan dx="0.5">7.17</tspan></text>
<text transform="translate(394.00,225.90) rotate(-90)" font-size="11.3" text-anchor="end" fill="#111" stroke="#111" stroke-width="0.25">+<tspan dx="0.5">7.56</tspan></text>
<text transform="translate(402.20,225.90) rotate(-90)" font-size="11.3" text-anchor="end" fill="#111" stroke="#111" stroke-width="0.25">+<tspan dx="0.5">7.95</tspan></text>
<text transform="translate(413.00,225.90) rotate(-90)" font-size="11.3" text-anchor="end" fill="#111" stroke="#111" stroke-width="0.25">+<tspan dx="0.5">8.62</tspan></text>
<text transform="translate(422.50,225.90) rotate(-90)" font-size="11.3" text-anchor="end" fill="#111" stroke="#111" stroke-width="0.25">+<tspan dx="0.5">9.52</tspan></text>
<line x1="428.00" y1="271.60" x2="442.00" y2="271.60" stroke="#333" stroke-width="0.8"/>
<line x1="444.60" y1="271.60" x2="459.40" y2="271.60" stroke="#777" stroke-width="0.7"/>
<rect x="436.20" y="270.70" width="1.60" height="1.80" fill="#444"/>
<rect x="446.10" y="270.70" width="1.60" height="1.80" fill="#444"/>
<rect x="451.00" y="270.70" width="1.60" height="1.80" fill="#444"/>
<rect x="455.90" y="270.70" width="1.60" height="1.80" fill="#444"/>
<rect x="423.60" y="261.30" width="5.10" height="21.40" fill="#000"/>
<path d="M423.8 269.6 L421.4 271.6 L423.8 273.6 Z" fill="#000"/>
<rect x="431.80" y="261.00" width="1.50" height="21.70" fill="#000"/>
<rect x="439.00" y="261.20" width="0.80" height="21.30" fill="#777"/>
<rect x="442.10" y="266.20" width="2.50" height="12.10" fill="#000"/>
<rect x="459.40" y="265.90" width="6.00" height="12.40" fill="#000"/>
<text transform="translate(473.00,277.30)" font-size="12.3" text-anchor="start" fill="#111" stroke="#111" stroke-width="0.25">C6orf1</text>
<text transform="translate(5.60,318.70) scale(0.960,1)" font-size="17" font-weight="bold" text-anchor="start" fill="#111" stroke="#111" stroke-width="0.25">B</text>
<text transform="translate(78.20,318.80)" font-size="12.8" font-weight="bold" text-anchor="start" fill="#111" stroke="#111" stroke-width="0.25">MDA-MB-231</text>
<text transform="translate(22.50,444.90) rotate(-90) scale(0.776,1)" font-size="10.3" text-anchor="start" fill="#222" stroke="#222" stroke-width="0.25">Relative mRNA level to HMGA1</text>
<line x1="50.30" y1="337.60" x2="50.30" y2="439.90" stroke="#333" stroke-width="0.9"/>
<line x1="49.90" y1="439.40" x2="113.70" y2="439.40" stroke="#222" stroke-width="1.3"/>
<text transform="translate(44.30,343.50)" font-size="10.0" text-anchor="end" fill="#222" stroke="#222" stroke-width="0.25">1.5</text>
<line x1="48.30" y1="337.90" x2="50.30" y2="337.90" stroke="#333" stroke-width="0.8"/>
<text transform="translate(44.30,375.60)" font-size="10.0" text-anchor="end" fill="#222" stroke="#222" stroke-width="0.25">1</text>
<line x1="48.30" y1="371.70" x2="50.30" y2="371.70" stroke="#333" stroke-width="0.8"/>
<text transform="translate(44.30,408.50)" font-size="10.0" text-anchor="end" fill="#222" stroke="#222" stroke-width="0.25">0.5</text>
<line x1="48.30" y1="405.50" x2="50.30" y2="405.50" stroke="#333" stroke-width="0.8"/>
<text transform="translate(44.30,442.50)" font-size="10.0" text-anchor="end" fill="#222" stroke="#222" stroke-width="0.25">0</text>
<line x1="48.30" y1="439.30" x2="50.30" y2="439.30" stroke="#333" stroke-width="0.8"/>
<rect x="55.50" y="371.00" width="21.30" height="68.40" fill="#000"/>
<line x1="65.80" y1="439.40" x2="65.80" y2="443.00" stroke="#333" stroke-width="0.8"/>
<line x1="97.80" y1="439.40" x2="97.80" y2="443.00" stroke="#333" stroke-width="0.8"/>
<text transform="translate(99.00,426.20)" font-size="7.4" font-weight="bold" text-anchor="middle" fill="#333" stroke="#333" stroke-width="0.25">****</text>
<text transform="translate(65.90,454.10)" font-size="9.75" text-anchor="middle" fill="#222" stroke="#222" stroke-width="0.25">HMGA1</text>
<text transform="translate(104.30,454.10)" font-size="9.75" text-anchor="middle" fill="#222" stroke="#222" stroke-width="0.25">C6orf1</text>
<line x1="146.20" y1="336.20" x2="146.20" y2="438.70" stroke="#333" stroke-width="0.9"/>
<line x1="145.80" y1="438.20" x2="217.50" y2="438.20" stroke="#222" stroke-width="1.3"/>
<text transform="translate(138.60,340.80)" font-size="8.95" text-anchor="end" fill="#222" stroke="#222" stroke-width="0.25">1.5</text>
<line x1="144.20" y1="336.50" x2="146.20" y2="336.50" stroke="#333" stroke-width="0.8"/>
<text transform="translate(138.60,373.50)" font-size="8.95" text-anchor="end" fill="#222" stroke="#222" stroke-width="0.25">1</text>
<line x1="144.20" y1="370.30" x2="146.20" y2="370.30" stroke="#333" stroke-width="0.8"/>
<text transform="translate(138.60,407.20)" font-size="8.95" text-anchor="end" fill="#222" stroke="#222" stroke-width="0.25">0.5</text>
<line x1="144.20" y1="404.30" x2="146.20" y2="404.30" stroke="#333" stroke-width="0.8"/>
<text transform="translate(138.60,439.70)" font-size="8.95" text-anchor="end" fill="#222" stroke="#222" stroke-width="0.25">0</text>
<line x1="144.20" y1="438.10" x2="146.20" y2="438.10" stroke="#333" stroke-width="0.8"/>
<rect x="152.00" y="370.20" width="24.20" height="68.00" fill="#000"/>
<rect x="187.50" y="437.20" width="28.50" height="0.90" fill="#222"/>
<line x1="163.70" y1="438.20" x2="163.70" y2="441.80" stroke="#333" stroke-width="0.8"/>
<line x1="200.00" y1="438.20" x2="200.00" y2="441.80" stroke="#333" stroke-width="0.8"/>
<text transform="translate(198.50,425.60)" font-size="7.4" font-weight="bold" text-anchor="middle" fill="#333" stroke="#333" stroke-width="0.25">****</text>
<text transform="translate(164.10,453.90)" font-size="9.85" text-anchor="middle" fill="#222" stroke="#222" stroke-width="0.25">HMGA1</text>
<text transform="translate(201.60,453.90)" font-size="9.75" text-anchor="middle" fill="#222" stroke="#222" stroke-width="0.25">C6orf1</text>
<text transform="translate(266.00,318.50) scale(0.960,1)" font-size="17.4" font-weight="bold" text-anchor="start" fill="#111" stroke="#111" stroke-width="0.25">C</text>
<text transform="translate(397.00,319.20)" font-size="13.0" font-weight="bold" text-anchor="start" fill="#111" stroke="#111" stroke-width="0.25">H3</text>
<line x1="301.20" y1="332.50" x2="301.20" y2="424.80" stroke="#444" stroke-width="0.8"/>
<line x1="300.80" y1="424.30" x2="512.60" y2="424.30" stroke="#222" stroke-width="1.1"/>
<text transform="translate(295.90,337.30) scale(0.860,1)" font-size="9.6" text-anchor="end" fill="#222" stroke="#222" stroke-width="0.25">2</text>
<line x1="299.20" y1="332.80" x2="301.20" y2="332.80" stroke="#444" stroke-width="0.8"/>
<text transform="translate(295.90,359.30) scale(0.860,1)" font-size="9.6" text-anchor="end" fill="#222" stroke="#222" stroke-width="0.25">1.5</text>
<line x1="299.20" y1="355.50" x2="301.20" y2="355.50" stroke="#444" stroke-width="0.8"/>
<text transform="translate(295.90,382.50) scale(0.860,1)" font-size="9.6" text-anchor="end" fill="#222" stroke="#222" stroke-width="0.25">1</text>
<line x1="299.20" y1="378.40" x2="301.20" y2="378.40" stroke="#444" stroke-width="0.8"/>
<text transform="translate(295.90,405.30) scale(0.860,1)" font-size="9.6" text-anchor="end" fill="#222" stroke="#222" stroke-width="0.25">0.5</text>
<line x1="299.20" y1="401.10" x2="301.20" y2="401.10" stroke="#444" stroke-width="0.8"/>
<text transform="translate(295.90,428.30) scale(0.860,1)" font-size="9.6" text-anchor="end" fill="#222" stroke="#222" stroke-width="0.25">0</text>
<line x1="299.20" y1="424.40" x2="301.20" y2="424.40" stroke="#444" stroke-width="0.8"/>
<text transform="translate(278.70,378.10) rotate(-90)" font-size="9.8" text-anchor="middle" fill="#222" stroke="#222" stroke-width="0.25">Relative signal</text>
<path d="M385.50 424.30 V326.50 H392.70" fill="none" stroke="#555" stroke-width="0.8"/>
<path d="M391.80 323.30 L398.70 326.50 L391.80 329.70 Z" fill="#000"/>
<rect x="303.00" y="361.20" width="7.10" height="63.10" fill="#000"/>
<line x1="306.55" y1="361.20" x2="306.55" y2="352.50" stroke="#333" stroke-width="0.9"/>
<line x1="304.45" y1="352.50" x2="308.65" y2="352.50" stroke="#333" stroke-width="0.9"/>
<line x1="306.55" y1="424.30" x2="306.55" y2="427.50" stroke="#666" stroke-width="0.7"/>
<text transform="translate(309.35,429.20) rotate(-90) scale(0.955,1)" font-size="9.8" text-anchor="end" fill="#222" stroke="#222" stroke-width="0.25">–<tspan dx="0.7">13.22</tspan></text>
<rect x="313.59" y="416.20" width="7.10" height="8.10" fill="#000"/>
<line x1="317.14" y1="416.20" x2="317.14" y2="413.70" stroke="#333" stroke-width="0.9"/>
<line x1="315.04" y1="413.70" x2="319.24" y2="413.70" stroke="#333" stroke-width="0.9"/>
<line x1="317.14" y1="424.30" x2="317.14" y2="427.50" stroke="#666" stroke-width="0.7"/>
<text transform="translate(319.94,429.20) rotate(-90) scale(0.955,1)" font-size="9.8" text-anchor="end" fill="#222" stroke="#222" stroke-width="0.25">–<tspan dx="0.7">12.63</tspan></text>
<rect x="324.18" y="386.70" width="7.10" height="37.60" fill="#000"/>
<line x1="327.73" y1="386.70" x2="327.73" y2="377.00" stroke="#333" stroke-width="0.9"/>
<line x1="325.63" y1="377.00" x2="329.83" y2="377.00" stroke="#333" stroke-width="0.9"/>
<line x1="327.73" y1="424.30" x2="327.73" y2="427.50" stroke="#666" stroke-width="0.7"/>
<text transform="translate(330.53,429.20) rotate(-90) scale(0.955,1)" font-size="9.8" text-anchor="end" fill="#222" stroke="#222" stroke-width="0.25">–<tspan dx="0.7">12.06</tspan></text>
<rect x="334.77" y="357.00" width="7.10" height="67.30" fill="#000"/>
<line x1="338.32" y1="357.00" x2="338.32" y2="340.70" stroke="#333" stroke-width="0.9"/>
<line x1="336.22" y1="340.70" x2="340.42" y2="340.70" stroke="#333" stroke-width="0.9"/>
<line x1="338.32" y1="424.30" x2="338.32" y2="427.50" stroke="#666" stroke-width="0.7"/>
<text transform="translate(341.12,429.20) rotate(-90) scale(0.955,1)" font-size="9.8" text-anchor="end" fill="#222" stroke="#222" stroke-width="0.25">–<tspan dx="0.7">3.82</tspan></text>
<rect x="345.36" y="378.70" width="7.10" height="45.60" fill="#000"/>
<line x1="348.91" y1="378.70" x2="348.91" y2="368.70" stroke="#333" stroke-width="0.9"/>
<line x1="346.81" y1="368.70" x2="351.01" y2="368.70" stroke="#333" stroke-width="0.9"/>
<line x1="348.91" y1="424.30" x2="348.91" y2="427.50" stroke="#666" stroke-width="0.7"/>
<text transform="translate(351.71,429.20) rotate(-90) scale(0.955,1)" font-size="9.8" text-anchor="end" fill="#222" stroke="#222" stroke-width="0.25">–<tspan dx="0.7">3.01</tspan></text>
<rect x="355.95" y="354.20" width="7.10" height="70.10" fill="#000"/>
<line x1="359.50" y1="354.20" x2="359.50" y2="345.50" stroke="#333" stroke-width="0.9"/>
<line x1="357.40" y1="345.50" x2="361.60" y2="345.50" stroke="#333" stroke-width="0.9"/>
<line x1="359.50" y1="424.30" x2="359.50" y2="427.50" stroke="#666" stroke-width="0.7"/>
<text transform="translate(362.30,429.20) rotate(-90) scale(0.955,1)" font-size="9.8" text-anchor="end" fill="#222" stroke="#222" stroke-width="0.25">–<tspan dx="0.7">1.79</tspan></text>
<rect x="366.54" y="410.00" width="7.10" height="14.30" fill="#000"/>
<line x1="370.09" y1="410.00" x2="370.09" y2="408.70" stroke="#333" stroke-width="0.9"/>
<line x1="367.99" y1="408.70" x2="372.19" y2="408.70" stroke="#333" stroke-width="0.9"/>
<line x1="370.09" y1="424.30" x2="370.09" y2="427.50" stroke="#666" stroke-width="0.7"/>
<text transform="translate(372.89,429.20) rotate(-90) scale(0.955,1)" font-size="9.8" text-anchor="end" fill="#222" stroke="#222" stroke-width="0.25">–<tspan dx="0.7">1.02</tspan></text>
<rect x="377.13" y="388.00" width="7.10" height="36.30" fill="#000"/>
<line x1="380.68" y1="388.00" x2="380.68" y2="375.50" stroke="#333" stroke-width="0.9"/>
<line x1="378.58" y1="375.50" x2="382.78" y2="375.50" stroke="#333" stroke-width="0.9"/>
<line x1="380.68" y1="424.30" x2="380.68" y2="427.50" stroke="#666" stroke-width="0.7"/>
<text transform="translate(383.48,429.20) rotate(-90) scale(0.955,1)" font-size="9.8" text-anchor="end" fill="#222" stroke="#222" stroke-width="0.25">–<tspan dx="0.7">0.32</tspan></text>
<rect x="387.72" y="415.70" width="7.10" height="8.60" fill="#000"/>
<line x1="391.27" y1="415.70" x2="391.27" y2="414.20" stroke="#333" stroke-width="0.9"/>
<line x1="389.17" y1="414.20" x2="393.37" y2="414.20" stroke="#333" stroke-width="0.9"/>
<line x1="391.27" y1="424.30" x2="391.27" y2="427.50" stroke="#666" stroke-width="0.7"/>
<text transform="translate(394.07,429.20) rotate(-90) scale(0.955,1)" font-size="9.8" text-anchor="end" fill="#222" stroke="#222" stroke-width="0.25">+<tspan dx="0.7">0.05</tspan></text>
<rect x="398.31" y="385.50" width="7.10" height="38.80" fill="#000"/>
<line x1="401.86" y1="385.50" x2="401.86" y2="382.50" stroke="#333" stroke-width="0.9"/>
<line x1="399.76" y1="382.50" x2="403.96" y2="382.50" stroke="#333" stroke-width="0.9"/>
<line x1="401.86" y1="424.30" x2="401.86" y2="427.50" stroke="#666" stroke-width="0.7"/>
<text transform="translate(404.66,429.20) rotate(-90) scale(0.955,1)" font-size="9.8" text-anchor="end" fill="#222" stroke="#222" stroke-width="0.25">+<tspan dx="0.7">1.22</tspan></text>
<rect x="408.90" y="378.70" width="7.10" height="45.60" fill="#000"/>
<line x1="412.45" y1="424.30" x2="412.45" y2="427.50" stroke="#666" stroke-width="0.7"/>
<text transform="translate(415.25,429.20) rotate(-90) scale(0.955,1)" font-size="9.8" text-anchor="end" fill="#222" stroke="#222" stroke-width="0.25">+<tspan dx="0.7">1.89</tspan></text>
<rect x="419.49" y="380.50" width="7.10" height="43.80" fill="#000"/>
<line x1="423.04" y1="380.50" x2="423.04" y2="372.00" stroke="#333" stroke-width="0.9"/>
<line x1="420.94" y1="372.00" x2="425.14" y2="372.00" stroke="#333" stroke-width="0.9"/>
<line x1="423.04" y1="424.30" x2="423.04" y2="427.50" stroke="#666" stroke-width="0.7"/>
<text transform="translate(425.84,429.20) rotate(-90) scale(0.955,1)" font-size="9.8" text-anchor="end" fill="#222" stroke="#222" stroke-width="0.25">+<tspan dx="0.7">3.23</tspan></text>
<rect x="430.08" y="371.20" width="7.10" height="53.10" fill="#000"/>
<line x1="433.63" y1="371.20" x2="433.63" y2="365.00" stroke="#333" stroke-width="0.9"/>
<line x1="431.53" y1="365.00" x2="435.73" y2="365.00" stroke="#333" stroke-width="0.9"/>
<line x1="433.63" y1="424.30" x2="433.63" y2="427.50" stroke="#666" stroke-width="0.7"/>
<text transform="translate(436.43,429.20) rotate(-90) scale(0.955,1)" font-size="9.8" text-anchor="end" fill="#222" stroke="#222" stroke-width="0.25">+<tspan dx="0.7">4.16</tspan></text>
<rect x="440.67" y="368.70" width="7.10" height="55.60" fill="#000"/>
<line x1="444.22" y1="368.70" x2="444.22" y2="355.70" stroke="#333" stroke-width="0.9"/>
<line x1="442.12" y1="355.70" x2="446.32" y2="355.70" stroke="#333" stroke-width="0.9"/>
<line x1="444.22" y1="424.30" x2="444.22" y2="427.50" stroke="#666" stroke-width="0.7"/>
<text transform="translate(447.02,429.20) rotate(-90) scale(0.955,1)" font-size="9.8" text-anchor="end" fill="#222" stroke="#222" stroke-width="0.25">+<tspan dx="0.7">5.63</tspan></text>
<rect x="451.26" y="384.50" width="7.10" height="39.80" fill="#000"/>
<line x1="454.81" y1="384.50" x2="454.81" y2="382.00" stroke="#333" stroke-width="0.9"/>
<line x1="452.71" y1="382.00" x2="456.91" y2="382.00" stroke="#333" stroke-width="0.9"/>
<line x1="454.81" y1="424.30" x2="454.81" y2="427.50" stroke="#666" stroke-width="0.7"/>
<text transform="translate(457.61,429.20) rotate(-90) scale(0.955,1)" font-size="9.8" text-anchor="end" fill="#222" stroke="#222" stroke-width="0.25">+<tspan dx="0.7">6.52</tspan></text>
<rect x="461.85" y="393.20" width="7.10" height="31.10" fill="#000"/>
<line x1="465.40" y1="393.20" x2="465.40" y2="390.00" stroke="#333" stroke-width="0.9"/>
<line x1="463.30" y1="390.00" x2="467.50" y2="390.00" stroke="#333" stroke-width="0.9"/>
<line x1="465.40" y1="424.30" x2="465.40" y2="427.50" stroke="#666" stroke-width="0.7"/>
<text transform="translate(468.20,429.20) rotate(-90) scale(0.955,1)" font-size="9.8" text-anchor="end" fill="#222" stroke="#222" stroke-width="0.25">+<tspan dx="0.7">7.17</tspan></text>
<rect x="472.44" y="395.70" width="7.10" height="28.60" fill="#000"/>
<line x1="475.99" y1="395.70" x2="475.99" y2="389.50" stroke="#333" stroke-width="0.9"/>
<line x1="473.89" y1="389.50" x2="478.09" y2="389.50" stroke="#333" stroke-width="0.9"/>
<line x1="475.99" y1="424.30" x2="475.99" y2="427.50" stroke="#666" stroke-width="0.7"/>
<text transform="translate(478.79,429.20) rotate(-90) scale(0.955,1)" font-size="9.8" text-anchor="end" fill="#222" stroke="#222" stroke-width="0.25">+<tspan dx="0.7">7.56</tspan></text>
<rect x="483.03" y="411.20" width="7.10" height="13.10" fill="#000"/>
<line x1="486.58" y1="411.20" x2="486.58" y2="407.50" stroke="#333" stroke-width="0.9"/>
<line x1="484.48" y1="407.50" x2="488.68" y2="407.50" stroke="#333" stroke-width="0.9"/>
<line x1="486.58" y1="424.30" x2="486.58" y2="427.50" stroke="#666" stroke-width="0.7"/>
<text transform="translate(489.38,429.20) rotate(-90) scale(0.955,1)" font-size="9.8" text-anchor="end" fill="#222" stroke="#222" stroke-width="0.25">+<tspan dx="0.7">7.95</tspan></text>
<rect x="493.62" y="388.00" width="7.10" height="36.30" fill="#000"/>
<line x1="497.17" y1="388.00" x2="497.17" y2="383.20" stroke="#333" stroke-width="0.9"/>
<line x1="495.07" y1="383.20" x2="499.27" y2="383.20" stroke="#333" stroke-width="0.9"/>
<line x1="497.17" y1="424.30" x2="497.17" y2="427.50" stroke="#666" stroke-width="0.7"/>
<text transform="translate(500.27,429.20) rotate(-90) scale(0.955,1)" font-size="9.8" text-anchor="end" fill="#222" stroke="#222" stroke-width="0.25">+<tspan dx="0.7">8.62</tspan></text>
<rect x="504.21" y="373.00" width="7.10" height="51.30" fill="#000"/>
<line x1="507.76" y1="373.00" x2="507.76" y2="365.50" stroke="#333" stroke-width="0.9"/>
<line x1="505.66" y1="365.50" x2="509.86" y2="365.50" stroke="#333" stroke-width="0.9"/>
<line x1="507.76" y1="424.30" x2="507.76" y2="427.50" stroke="#666" stroke-width="0.7"/>
<text transform="translate(511.96,429.20) rotate(-90) scale(0.955,1)" font-size="9.8" text-anchor="end" fill="#222" stroke="#222" stroke-width="0.25">+<tspan dx="0.7">9.52</tspan></text>
<line x1="316.90" y1="327.00" x2="316.90" y2="337.20" stroke="#e01b22" stroke-width="1.8"/>
<path d="M313.70 336.20 L320.10 336.20 L316.90 343.00 Z" fill="#e01b22"/>
<line x1="369.00" y1="327.00" x2="369.00" y2="337.20" stroke="#e01b22" stroke-width="1.8"/>
<path d="M365.80 336.20 L372.20 336.20 L369.00 343.00 Z" fill="#e01b22"/>
<line x1="454.50" y1="327.00" x2="454.50" y2="337.20" stroke="#e01b22" stroke-width="1.8"/>
<path d="M451.30 336.20 L457.70 336.20 L454.50 343.00 Z" fill="#e01b22"/>
<line x1="474.20" y1="327.00" x2="474.20" y2="337.20" stroke="#e01b22" stroke-width="1.8"/>
<path d="M471.00 336.20 L477.40 336.20 L474.20 343.00 Z" fill="#e01b22"/>
<line x1="484.50" y1="327.00" x2="484.50" y2="337.20" stroke="#e01b22" stroke-width="1.8"/>
<path d="M481.30 336.20 L487.70 336.20 L484.50 343.00 Z" fill="#e01b22"/>
<text transform="translate(6.30,485.80) scale(0.960,1)" font-size="17.4" font-weight="bold" text-anchor="start" fill="#111" stroke="#111" stroke-width="0.25">D</text>
<text transform="translate(111.80,482.90)" font-size="13.1" font-weight="bold" text-anchor="start" fill="#111" stroke="#111" stroke-width="0.25">H3K4me3</text>
<line x1="39.50" y1="496.20" x2="39.50" y2="587.90" stroke="#444" stroke-width="0.8"/>
<line x1="39.10" y1="587.40" x2="250.00" y2="587.40" stroke="#222" stroke-width="1.1"/>
<text transform="translate(35.30,502.20) scale(0.860,1)" font-size="9.6" text-anchor="end" fill="#222" stroke="#222" stroke-width="0.25">1.5</text>
<line x1="37.50" y1="496.20" x2="39.50" y2="496.20" stroke="#444" stroke-width="0.8"/>
<text transform="translate(35.30,530.90) scale(0.860,1)" font-size="9.6" text-anchor="end" fill="#222" stroke="#222" stroke-width="0.25">1</text>
<line x1="37.50" y1="526.80" x2="39.50" y2="526.80" stroke="#444" stroke-width="0.8"/>
<text transform="translate(35.30,560.60) scale(0.860,1)" font-size="9.6" text-anchor="end" fill="#222" stroke="#222" stroke-width="0.25">0.5</text>
<line x1="37.50" y1="556.90" x2="39.50" y2="556.90" stroke="#444" stroke-width="0.8"/>
<text transform="translate(35.30,590.40) scale(0.860,1)" font-size="9.6" text-anchor="end" fill="#222" stroke="#222" stroke-width="0.25">0</text>
<line x1="37.50" y1="587.20" x2="39.50" y2="587.20" stroke="#444" stroke-width="0.8"/>
<text transform="translate(19.00,541.50) rotate(-90)" font-size="9.8" text-anchor="middle" fill="#222" stroke="#222" stroke-width="0.25">Relative signal</text>
<path d="M123.60 587.40 V489.50 H130.00" fill="none" stroke="#555" stroke-width="0.8"/>
<path d="M129.10 486.30 L136.00 489.50 L129.10 492.70 Z" fill="#000"/>
<rect x="41.20" y="578.20" width="7.10" height="9.20" fill="#000"/>
<line x1="44.75" y1="578.20" x2="44.75" y2="575.50" stroke="#333" stroke-width="0.9"/>
<line x1="42.65" y1="575.50" x2="46.85" y2="575.50" stroke="#333" stroke-width="0.9"/>
<line x1="44.75" y1="587.40" x2="44.75" y2="590.60" stroke="#666" stroke-width="0.7"/>
<text transform="translate(47.55,591.80) rotate(-90) scale(0.955,1)" font-size="9.8" text-anchor="end" fill="#222" stroke="#222" stroke-width="0.25">–<tspan dx="0.7">13.22</tspan></text>
<rect x="51.70" y="580.50" width="7.10" height="6.90" fill="#000"/>
<line x1="55.25" y1="580.50" x2="55.25" y2="578.00" stroke="#333" stroke-width="0.9"/>
<line x1="53.15" y1="578.00" x2="57.35" y2="578.00" stroke="#333" stroke-width="0.9"/>
<line x1="55.25" y1="587.40" x2="55.25" y2="590.60" stroke="#666" stroke-width="0.7"/>
<text transform="translate(58.05,591.80) rotate(-90) scale(0.955,1)" font-size="9.8" text-anchor="end" fill="#222" stroke="#222" stroke-width="0.25">–<tspan dx="0.7">12.63</tspan></text>
<rect x="62.20" y="570.70" width="7.10" height="16.70" fill="#000"/>
<line x1="65.75" y1="570.70" x2="65.75" y2="567.00" stroke="#333" stroke-width="0.9"/>
<line x1="63.65" y1="567.00" x2="67.85" y2="567.00" stroke="#333" stroke-width="0.9"/>
<line x1="65.75" y1="587.40" x2="65.75" y2="590.60" stroke="#666" stroke-width="0.7"/>
<text transform="translate(68.55,591.80) rotate(-90) scale(0.955,1)" font-size="9.8" text-anchor="end" fill="#222" stroke="#222" stroke-width="0.25">–<tspan dx="0.7">12.06</tspan></text>
<rect x="72.70" y="586.20" width="7.10" height="1.20" fill="#000"/>
<line x1="76.25" y1="587.40" x2="76.25" y2="590.60" stroke="#666" stroke-width="0.7"/>
<text transform="translate(79.05,591.80) rotate(-90) scale(0.955,1)" font-size="9.8" text-anchor="end" fill="#222" stroke="#222" stroke-width="0.25">–<tspan dx="0.7">3.82</tspan></text>
<rect x="83.20" y="585.70" width="7.10" height="1.70" fill="#000"/>
<line x1="86.75" y1="587.40" x2="86.75" y2="590.60" stroke="#666" stroke-width="0.7"/>
<text transform="translate(89.55,591.80) rotate(-90) scale(0.955,1)" font-size="9.8" text-anchor="end" fill="#222" stroke="#222" stroke-width="0.25">–<tspan dx="0.7">3.01</tspan></text>
<rect x="93.70" y="586.00" width="7.10" height="1.40" fill="#000"/>
<line x1="97.25" y1="587.40" x2="97.25" y2="590.60" stroke="#666" stroke-width="0.7"/>
<text transform="translate(100.05,591.80) rotate(-90) scale(0.955,1)" font-size="9.8" text-anchor="end" fill="#222" stroke="#222" stroke-width="0.25">–<tspan dx="0.7">1.79</tspan></text>
<rect x="104.20" y="583.00" width="7.10" height="4.40" fill="#000"/>
<line x1="107.75" y1="583.00" x2="107.75" y2="581.20" stroke="#333" stroke-width="0.9"/>
<line x1="105.65" y1="581.20" x2="109.85" y2="581.20" stroke="#333" stroke-width="0.9"/>
<line x1="107.75" y1="587.40" x2="107.75" y2="590.60" stroke="#666" stroke-width="0.7"/>
<text transform="translate(110.55,591.80) rotate(-90) scale(0.955,1)" font-size="9.8" text-anchor="end" fill="#222" stroke="#222" stroke-width="0.25">–<tspan dx="0.7">1.02</tspan></text>
<rect x="114.70" y="526.30" width="7.10" height="61.10" fill="#000"/>
<line x1="118.25" y1="587.40" x2="118.25" y2="590.60" stroke="#666" stroke-width="0.7"/>
<text transform="translate(121.05,591.80) rotate(-90) scale(0.955,1)" font-size="9.8" text-anchor="end" fill="#222" stroke="#222" stroke-width="0.25">–<tspan dx="0.7">0.32</tspan></text>
<rect x="125.20" y="575.40" width="7.10" height="12.00" fill="#000"/>
<line x1="128.75" y1="575.40" x2="128.75" y2="572.50" stroke="#333" stroke-width="0.9"/>
<line x1="126.65" y1="572.50" x2="130.85" y2="572.50" stroke="#333" stroke-width="0.9"/>
<line x1="128.75" y1="587.40" x2="128.75" y2="590.60" stroke="#666" stroke-width="0.7"/>
<text transform="translate(131.55,591.80) rotate(-90) scale(0.955,1)" font-size="9.8" text-anchor="end" fill="#222" stroke="#222" stroke-width="0.25">+<tspan dx="0.7">0.05</tspan></text>
<rect x="135.70" y="542.20" width="7.10" height="45.20" fill="#000"/>
<line x1="139.25" y1="542.20" x2="139.25" y2="536.40" stroke="#333" stroke-width="0.9"/>
<line x1="137.15" y1="536.40" x2="141.35" y2="536.40" stroke="#333" stroke-width="0.9"/>
<line x1="139.25" y1="587.40" x2="139.25" y2="590.60" stroke="#666" stroke-width="0.7"/>
<text transform="translate(142.05,591.80) rotate(-90) scale(0.955,1)" font-size="9.8" text-anchor="end" fill="#222" stroke="#222" stroke-width="0.25">+<tspan dx="0.7">1.22</tspan></text>
<rect x="146.20" y="540.80" width="7.10" height="46.60" fill="#000"/>
<line x1="149.75" y1="540.80" x2="149.75" y2="534.10" stroke="#333" stroke-width="0.9"/>
<line x1="147.65" y1="534.10" x2="151.85" y2="534.10" stroke="#333" stroke-width="0.9"/>
<line x1="149.75" y1="587.40" x2="149.75" y2="590.60" stroke="#666" stroke-width="0.7"/>
<text transform="translate(152.55,591.80) rotate(-90) scale(0.955,1)" font-size="9.8" text-anchor="end" fill="#222" stroke="#222" stroke-width="0.25">+<tspan dx="0.7">1.89</tspan></text>
<rect x="156.70" y="566.70" width="7.10" height="20.70" fill="#000"/>
<line x1="160.25" y1="566.70" x2="160.25" y2="561.50" stroke="#333" stroke-width="0.9"/>
<line x1="158.15" y1="561.50" x2="162.35" y2="561.50" stroke="#333" stroke-width="0.9"/>
<line x1="160.25" y1="587.40" x2="160.25" y2="590.60" stroke="#666" stroke-width="0.7"/>
<text transform="translate(163.05,591.80) rotate(-90) scale(0.955,1)" font-size="9.8" text-anchor="end" fill="#222" stroke="#222" stroke-width="0.25">+<tspan dx="0.7">3.23</tspan></text>
<rect x="167.20" y="578.30" width="7.10" height="9.10" fill="#000"/>
<line x1="170.75" y1="578.30" x2="170.75" y2="574.50" stroke="#333" stroke-width="0.9"/>
<line x1="168.65" y1="574.50" x2="172.85" y2="574.50" stroke="#333" stroke-width="0.9"/>
<line x1="170.75" y1="587.40" x2="170.75" y2="590.60" stroke="#666" stroke-width="0.7"/>
<text transform="translate(173.55,591.80) rotate(-90) scale(0.955,1)" font-size="9.8" text-anchor="end" fill="#222" stroke="#222" stroke-width="0.25">+<tspan dx="0.7">4.16</tspan></text>
<rect x="177.70" y="577.40" width="7.10" height="10.00" fill="#000"/>
<line x1="181.25" y1="577.40" x2="181.25" y2="576.50" stroke="#333" stroke-width="0.9"/>
<line x1="179.15" y1="576.50" x2="183.35" y2="576.50" stroke="#333" stroke-width="0.9"/>
<line x1="181.25" y1="587.40" x2="181.25" y2="590.60" stroke="#666" stroke-width="0.7"/>
<text transform="translate(184.05,591.80) rotate(-90) scale(0.955,1)" font-size="9.8" text-anchor="end" fill="#222" stroke="#222" stroke-width="0.25">+<tspan dx="0.7">5.63</tspan></text>
<rect x="188.20" y="578.30" width="7.10" height="9.10" fill="#000"/>
<line x1="191.75" y1="578.30" x2="191.75" y2="576.00" stroke="#333" stroke-width="0.9"/>
<line x1="189.65" y1="576.00" x2="193.85" y2="576.00" stroke="#333" stroke-width="0.9"/>
<line x1="191.75" y1="587.40" x2="191.75" y2="590.60" stroke="#666" stroke-width="0.7"/>
<text transform="translate(194.55,591.80) rotate(-90) scale(0.955,1)" font-size="9.8" text-anchor="end" fill="#222" stroke="#222" stroke-width="0.25">+<tspan dx="0.7">6.52</tspan></text>
<rect x="198.70" y="571.00" width="7.10" height="16.40" fill="#000"/>
<line x1="202.25" y1="571.00" x2="202.25" y2="563.30" stroke="#333" stroke-width="0.9"/>
<line x1="200.15" y1="563.30" x2="204.35" y2="563.30" stroke="#333" stroke-width="0.9"/>
<line x1="202.25" y1="587.40" x2="202.25" y2="590.60" stroke="#666" stroke-width="0.7"/>
<text transform="translate(205.05,591.80) rotate(-90) scale(0.955,1)" font-size="9.8" text-anchor="end" fill="#222" stroke="#222" stroke-width="0.25">+<tspan dx="0.7">7.17</tspan></text>
<rect x="209.20" y="578.80" width="7.10" height="8.60" fill="#000"/>
<line x1="212.75" y1="578.80" x2="212.75" y2="576.80" stroke="#333" stroke-width="0.9"/>
<line x1="210.65" y1="576.80" x2="214.85" y2="576.80" stroke="#333" stroke-width="0.9"/>
<line x1="212.75" y1="587.40" x2="212.75" y2="590.60" stroke="#666" stroke-width="0.7"/>
<text transform="translate(215.55,591.80) rotate(-90) scale(0.955,1)" font-size="9.8" text-anchor="end" fill="#222" stroke="#222" stroke-width="0.25">+<tspan dx="0.7">7.56</tspan></text>
<rect x="219.70" y="583.40" width="7.10" height="4.00" fill="#000"/>
<line x1="223.25" y1="583.40" x2="223.25" y2="582.50" stroke="#333" stroke-width="0.9"/>
<line x1="221.15" y1="582.50" x2="225.35" y2="582.50" stroke="#333" stroke-width="0.9"/>
<line x1="223.25" y1="587.40" x2="223.25" y2="590.60" stroke="#666" stroke-width="0.7"/>
<text transform="translate(226.05,591.80) rotate(-90) scale(0.955,1)" font-size="9.8" text-anchor="end" fill="#222" stroke="#222" stroke-width="0.25">+<tspan dx="0.7">7.95</tspan></text>
<rect x="230.20" y="580.30" width="7.10" height="7.10" fill="#000"/>
<line x1="233.75" y1="580.30" x2="233.75" y2="579.00" stroke="#333" stroke-width="0.9"/>
<line x1="231.65" y1="579.00" x2="235.85" y2="579.00" stroke="#333" stroke-width="0.9"/>
<line x1="233.75" y1="587.40" x2="233.75" y2="590.60" stroke="#666" stroke-width="0.7"/>
<text transform="translate(236.85,591.80) rotate(-90) scale(0.955,1)" font-size="9.8" text-anchor="end" fill="#222" stroke="#222" stroke-width="0.25">+<tspan dx="0.7">8.62</tspan></text>
<rect x="240.70" y="583.20" width="7.10" height="4.20" fill="#000"/>
<line x1="244.25" y1="583.20" x2="244.25" y2="582.00" stroke="#333" stroke-width="0.9"/>
<line x1="242.15" y1="582.00" x2="246.35" y2="582.00" stroke="#333" stroke-width="0.9"/>
<line x1="244.25" y1="587.40" x2="244.25" y2="590.60" stroke="#666" stroke-width="0.7"/>
<text transform="translate(248.45,591.80) rotate(-90) scale(0.955,1)" font-size="9.8" text-anchor="end" fill="#222" stroke="#222" stroke-width="0.25">+<tspan dx="0.7">9.52</tspan></text>
<line x1="55.50" y1="490.70" x2="55.50" y2="500.40" stroke="#e01b22" stroke-width="1.8"/>
<path d="M52.30 499.40 L58.70 499.40 L55.50 506.20 Z" fill="#e01b22"/>
<line x1="107.50" y1="490.70" x2="107.50" y2="500.40" stroke="#e01b22" stroke-width="1.8"/>
<path d="M104.30 499.40 L110.70 499.40 L107.50 506.20 Z" fill="#e01b22"/>
<line x1="191.60" y1="490.70" x2="191.60" y2="500.40" stroke="#e01b22" stroke-width="1.8"/>
<path d="M188.40 499.40 L194.80 499.40 L191.60 506.20 Z" fill="#e01b22"/>
<line x1="211.50" y1="490.70" x2="211.50" y2="500.40" stroke="#e01b22" stroke-width="1.8"/>
<path d="M208.30 499.40 L214.70 499.40 L211.50 506.20 Z" fill="#e01b22"/>
<line x1="222.50" y1="490.70" x2="222.50" y2="500.40" stroke="#e01b22" stroke-width="1.8"/>
<path d="M219.30 499.40 L225.70 499.40 L222.50 506.20 Z" fill="#e01b22"/>
<text transform="translate(266.40,485.20) scale(0.960,1)" font-size="17.4" font-weight="bold" text-anchor="start" fill="#111" stroke="#111" stroke-width="0.25">E</text>
<text transform="translate(374.80,484.10)" font-size="12.8" font-weight="bold" text-anchor="start" fill="#111" stroke="#111" stroke-width="0.25">H3K4me1</text>
<line x1="300.70" y1="496.20" x2="300.70" y2="587.90" stroke="#444" stroke-width="0.8"/>
<line x1="300.30" y1="587.40" x2="511.50" y2="587.40" stroke="#222" stroke-width="1.1"/>
<text transform="translate(295.60,500.40) scale(0.860,1)" font-size="9.6" text-anchor="end" fill="#222" stroke="#222" stroke-width="0.25">2</text>
<line x1="298.70" y1="496.20" x2="300.70" y2="496.20" stroke="#444" stroke-width="0.8"/>
<text transform="translate(295.60,522.90) scale(0.860,1)" font-size="9.6" text-anchor="end" fill="#222" stroke="#222" stroke-width="0.25">1.5</text>
<line x1="298.70" y1="519.00" x2="300.70" y2="519.00" stroke="#444" stroke-width="0.8"/>
<text transform="translate(295.60,545.40) scale(0.860,1)" font-size="9.6" text-anchor="end" fill="#222" stroke="#222" stroke-width="0.25">1</text>
<line x1="298.70" y1="541.90" x2="300.70" y2="541.90" stroke="#444" stroke-width="0.8"/>
<text transform="translate(295.60,568.40) scale(0.860,1)" font-size="9.6" text-anchor="end" fill="#222" stroke="#222" stroke-width="0.25">0.5</text>
<line x1="298.70" y1="565.00" x2="300.70" y2="565.00" stroke="#444" stroke-width="0.8"/>
<text transform="translate(295.60,591.40) scale(0.860,1)" font-size="9.6" text-anchor="end" fill="#222" stroke="#222" stroke-width="0.25">0</text>
<line x1="298.70" y1="587.60" x2="300.70" y2="587.60" stroke="#444" stroke-width="0.8"/>
<text transform="translate(278.30,542.80) rotate(-90)" font-size="9.8" text-anchor="middle" fill="#222" stroke="#222" stroke-width="0.25">Relative signal</text>
<path d="M384.60 587.40 V491.20 H392.00" fill="none" stroke="#555" stroke-width="0.8"/>
<path d="M391.10 488.00 L398.00 491.20 L391.10 494.40 Z" fill="#000"/>
<rect x="302.80" y="541.20" width="7.00" height="46.20" fill="#000"/>
<line x1="306.30" y1="541.20" x2="306.30" y2="537.50" stroke="#333" stroke-width="0.9"/>
<line x1="304.20" y1="537.50" x2="308.40" y2="537.50" stroke="#333" stroke-width="0.9"/>
<line x1="306.30" y1="587.40" x2="306.30" y2="590.60" stroke="#666" stroke-width="0.7"/>
<text transform="translate(309.10,592.00) rotate(-90) scale(0.955,1)" font-size="9.8" text-anchor="end" fill="#222" stroke="#222" stroke-width="0.25">–<tspan dx="0.7">13.22</tspan></text>
<rect x="313.35" y="585.50" width="7.00" height="1.90" fill="#000"/>
<line x1="316.85" y1="587.40" x2="316.85" y2="590.60" stroke="#666" stroke-width="0.7"/>
<text transform="translate(319.65,592.00) rotate(-90) scale(0.955,1)" font-size="9.8" text-anchor="end" fill="#222" stroke="#222" stroke-width="0.25">–<tspan dx="0.7">12.63</tspan></text>
<rect x="323.90" y="570.00" width="7.00" height="17.40" fill="#000"/>
<line x1="327.40" y1="570.00" x2="327.40" y2="566.70" stroke="#333" stroke-width="0.9"/>
<line x1="325.30" y1="566.70" x2="329.50" y2="566.70" stroke="#333" stroke-width="0.9"/>
<line x1="327.40" y1="587.40" x2="327.40" y2="590.60" stroke="#666" stroke-width="0.7"/>
<text transform="translate(330.20,592.00) rotate(-90) scale(0.955,1)" font-size="9.8" text-anchor="end" fill="#222" stroke="#222" stroke-width="0.25">–<tspan dx="0.7">12.06</tspan></text>
<rect x="334.45" y="565.70" width="7.00" height="21.70" fill="#000"/>
<line x1="337.95" y1="565.70" x2="337.95" y2="564.20" stroke="#333" stroke-width="0.9"/>
<line x1="335.85" y1="564.20" x2="340.05" y2="564.20" stroke="#333" stroke-width="0.9"/>
<line x1="337.95" y1="587.40" x2="337.95" y2="590.60" stroke="#666" stroke-width="0.7"/>
<text transform="translate(340.75,592.00) rotate(-90) scale(0.955,1)" font-size="9.8" text-anchor="end" fill="#222" stroke="#222" stroke-width="0.25">–<tspan dx="0.7">3.82</tspan></text>
<rect x="345.00" y="564.50" width="7.00" height="22.90" fill="#000"/>
<line x1="348.50" y1="564.50" x2="348.50" y2="562.50" stroke="#333" stroke-width="0.9"/>
<line x1="346.40" y1="562.50" x2="350.60" y2="562.50" stroke="#333" stroke-width="0.9"/>
<line x1="348.50" y1="587.40" x2="348.50" y2="590.60" stroke="#666" stroke-width="0.7"/>
<text transform="translate(351.30,592.00) rotate(-90) scale(0.955,1)" font-size="9.8" text-anchor="end" fill="#222" stroke="#222" stroke-width="0.25">–<tspan dx="0.7">3.01</tspan></text>
<rect x="355.55" y="552.50" width="7.00" height="34.90" fill="#000"/>
<line x1="359.05" y1="552.50" x2="359.05" y2="548.20" stroke="#333" stroke-width="0.9"/>
<line x1="356.95" y1="548.20" x2="361.15" y2="548.20" stroke="#333" stroke-width="0.9"/>
<line x1="359.05" y1="587.40" x2="359.05" y2="590.60" stroke="#666" stroke-width="0.7"/>
<text transform="translate(361.85,592.00) rotate(-90) scale(0.955,1)" font-size="9.8" text-anchor="end" fill="#222" stroke="#222" stroke-width="0.25">–<tspan dx="0.7">1.79</tspan></text>
<rect x="366.10" y="573.00" width="7.00" height="14.40" fill="#000"/>
<line x1="369.60" y1="573.00" x2="369.60" y2="568.70" stroke="#333" stroke-width="0.9"/>
<line x1="367.50" y1="568.70" x2="371.70" y2="568.70" stroke="#333" stroke-width="0.9"/>
<line x1="369.60" y1="587.40" x2="369.60" y2="590.60" stroke="#666" stroke-width="0.7"/>
<text transform="translate(372.40,592.00) rotate(-90) scale(0.955,1)" font-size="9.8" text-anchor="end" fill="#222" stroke="#222" stroke-width="0.25">–<tspan dx="0.7">1.02</tspan></text>
<rect x="376.65" y="573.50" width="7.00" height="13.90" fill="#000"/>
<line x1="380.15" y1="573.50" x2="380.15" y2="569.30" stroke="#333" stroke-width="0.9"/>
<line x1="378.05" y1="569.30" x2="382.25" y2="569.30" stroke="#333" stroke-width="0.9"/>
<line x1="380.15" y1="587.40" x2="380.15" y2="590.60" stroke="#666" stroke-width="0.7"/>
<text transform="translate(382.95,592.00) rotate(-90) scale(0.955,1)" font-size="9.8" text-anchor="end" fill="#222" stroke="#222" stroke-width="0.25">–<tspan dx="0.7">0.32</tspan></text>
<rect x="387.20" y="585.50" width="7.00" height="1.90" fill="#000"/>
<line x1="390.70" y1="587.40" x2="390.70" y2="590.60" stroke="#666" stroke-width="0.7"/>
<text transform="translate(393.50,592.00) rotate(-90) scale(0.955,1)" font-size="9.8" text-anchor="end" fill="#222" stroke="#222" stroke-width="0.25">+<tspan dx="0.7">0.05</tspan></text>
<rect x="397.75" y="582.60" width="7.00" height="4.80" fill="#000"/>
<line x1="401.25" y1="582.60" x2="401.25" y2="581.50" stroke="#333" stroke-width="0.9"/>
<line x1="399.15" y1="581.50" x2="403.35" y2="581.50" stroke="#333" stroke-width="0.9"/>
<line x1="401.25" y1="587.40" x2="401.25" y2="590.60" stroke="#666" stroke-width="0.7"/>
<text transform="translate(404.05,592.00) rotate(-90) scale(0.955,1)" font-size="9.8" text-anchor="end" fill="#222" stroke="#222" stroke-width="0.25">+<tspan dx="0.7">1.22</tspan></text>
<rect x="408.30" y="576.80" width="7.00" height="10.60" fill="#000"/>
<line x1="411.80" y1="576.80" x2="411.80" y2="574.80" stroke="#333" stroke-width="0.9"/>
<line x1="409.70" y1="574.80" x2="413.90" y2="574.80" stroke="#333" stroke-width="0.9"/>
<line x1="411.80" y1="587.40" x2="411.80" y2="590.60" stroke="#666" stroke-width="0.7"/>
<text transform="translate(414.60,592.00) rotate(-90) scale(0.955,1)" font-size="9.8" text-anchor="end" fill="#222" stroke="#222" stroke-width="0.25">+<tspan dx="0.7">1.89</tspan></text>
<rect x="418.85" y="551.70" width="7.00" height="35.70" fill="#000"/>
<line x1="422.35" y1="551.70" x2="422.35" y2="549.40" stroke="#333" stroke-width="0.9"/>
<line x1="420.25" y1="549.40" x2="424.45" y2="549.40" stroke="#333" stroke-width="0.9"/>
<line x1="422.35" y1="587.40" x2="422.35" y2="590.60" stroke="#666" stroke-width="0.7"/>
<text transform="translate(425.15,592.00) rotate(-90) scale(0.955,1)" font-size="9.8" text-anchor="end" fill="#222" stroke="#222" stroke-width="0.25">+<tspan dx="0.7">3.23</tspan></text>
<rect x="429.40" y="530.70" width="7.00" height="56.70" fill="#000"/>
<line x1="432.90" y1="530.70" x2="432.90" y2="527.20" stroke="#333" stroke-width="0.9"/>
<line x1="430.80" y1="527.20" x2="435.00" y2="527.20" stroke="#333" stroke-width="0.9"/>
<line x1="432.90" y1="587.40" x2="432.90" y2="590.60" stroke="#666" stroke-width="0.7"/>
<text transform="translate(435.70,592.00) rotate(-90) scale(0.955,1)" font-size="9.8" text-anchor="end" fill="#222" stroke="#222" stroke-width="0.25">+<tspan dx="0.7">4.16</tspan></text>
<rect x="439.95" y="541.60" width="7.00" height="45.80" fill="#000"/>
<line x1="443.45" y1="587.40" x2="443.45" y2="590.60" stroke="#666" stroke-width="0.7"/>
<text transform="translate(446.25,592.00) rotate(-90) scale(0.955,1)" font-size="9.8" text-anchor="end" fill="#222" stroke="#222" stroke-width="0.25">+<tspan dx="0.7">5.63</tspan></text>
<rect x="450.50" y="556.00" width="7.00" height="31.40" fill="#000"/>
<line x1="454.00" y1="556.00" x2="454.00" y2="550.00" stroke="#333" stroke-width="0.9"/>
<line x1="451.90" y1="550.00" x2="456.10" y2="550.00" stroke="#333" stroke-width="0.9"/>
<line x1="454.00" y1="587.40" x2="454.00" y2="590.60" stroke="#666" stroke-width="0.7"/>
<text transform="translate(456.80,592.00) rotate(-90) scale(0.955,1)" font-size="9.8" text-anchor="end" fill="#222" stroke="#222" stroke-width="0.25">+<tspan dx="0.7">6.52</tspan></text>
<rect x="461.05" y="524.30" width="7.00" height="63.10" fill="#000"/>
<line x1="464.55" y1="524.30" x2="464.55" y2="519.10" stroke="#333" stroke-width="0.9"/>
<line x1="462.45" y1="519.10" x2="466.65" y2="519.10" stroke="#333" stroke-width="0.9"/>
<line x1="464.55" y1="587.40" x2="464.55" y2="590.60" stroke="#666" stroke-width="0.7"/>
<text transform="translate(467.35,592.00) rotate(-90) scale(0.955,1)" font-size="9.8" text-anchor="end" fill="#222" stroke="#222" stroke-width="0.25">+<tspan dx="0.7">7.17</tspan></text>
<rect x="471.60" y="565.90" width="7.00" height="21.50" fill="#000"/>
<line x1="475.10" y1="565.90" x2="475.10" y2="563.30" stroke="#333" stroke-width="0.9"/>
<line x1="473.00" y1="563.30" x2="477.20" y2="563.30" stroke="#333" stroke-width="0.9"/>
<line x1="475.10" y1="587.40" x2="475.10" y2="590.60" stroke="#666" stroke-width="0.7"/>
<text transform="translate(477.90,592.00) rotate(-90) scale(0.955,1)" font-size="9.8" text-anchor="end" fill="#222" stroke="#222" stroke-width="0.25">+<tspan dx="0.7">7.56</tspan></text>
<rect x="482.15" y="576.80" width="7.00" height="10.60" fill="#000"/>
<line x1="485.65" y1="576.80" x2="485.65" y2="574.50" stroke="#333" stroke-width="0.9"/>
<line x1="483.55" y1="574.50" x2="487.75" y2="574.50" stroke="#333" stroke-width="0.9"/>
<line x1="485.65" y1="587.40" x2="485.65" y2="590.60" stroke="#666" stroke-width="0.7"/>
<text transform="translate(488.45,592.00) rotate(-90) scale(0.955,1)" font-size="9.8" text-anchor="end" fill="#222" stroke="#222" stroke-width="0.25">+<tspan dx="0.7">7.95</tspan></text>
<rect x="492.70" y="519.70" width="7.00" height="67.70" fill="#000"/>
<line x1="496.20" y1="519.70" x2="496.20" y2="517.10" stroke="#333" stroke-width="0.9"/>
<line x1="494.10" y1="517.10" x2="498.30" y2="517.10" stroke="#333" stroke-width="0.9"/>
<line x1="496.20" y1="587.40" x2="496.20" y2="590.60" stroke="#666" stroke-width="0.7"/>
<text transform="translate(499.30,592.00) rotate(-90) scale(0.955,1)" font-size="9.8" text-anchor="end" fill="#222" stroke="#222" stroke-width="0.25">+<tspan dx="0.7">8.62</tspan></text>
<rect x="503.25" y="535.60" width="7.00" height="51.80" fill="#000"/>
<line x1="506.75" y1="535.60" x2="506.75" y2="531.50" stroke="#333" stroke-width="0.9"/>
<line x1="504.65" y1="531.50" x2="508.85" y2="531.50" stroke="#333" stroke-width="0.9"/>
<line x1="506.75" y1="587.40" x2="506.75" y2="590.60" stroke="#666" stroke-width="0.7"/>
<text transform="translate(510.95,592.00) rotate(-90) scale(0.955,1)" font-size="9.8" text-anchor="end" fill="#222" stroke="#222" stroke-width="0.25">+<tspan dx="0.7">9.52</tspan></text>
<line x1="318.00" y1="491.00" x2="318.00" y2="500.40" stroke="#e01b22" stroke-width="1.8"/>
<path d="M314.80 499.40 L321.20 499.40 L318.00 506.20 Z" fill="#e01b22"/>
<line x1="368.70" y1="491.00" x2="368.70" y2="500.40" stroke="#e01b22" stroke-width="1.8"/>
<path d="M365.50 499.40 L371.90 499.40 L368.70 506.20 Z" fill="#e01b22"/>
<line x1="453.60" y1="491.00" x2="453.60" y2="500.40" stroke="#e01b22" stroke-width="1.8"/>
<path d="M450.40 499.40 L456.80 499.40 L453.60 506.20 Z" fill="#e01b22"/>
<line x1="475.90" y1="491.00" x2="475.90" y2="500.40" stroke="#e01b22" stroke-width="1.8"/>
<path d="M472.70 499.40 L479.10 499.40 L475.90 506.20 Z" fill="#e01b22"/>
<line x1="485.40" y1="491.00" x2="485.40" y2="500.40" stroke="#e01b22" stroke-width="1.8"/>
<path d="M482.20 499.40 L488.60 499.40 L485.40 506.20 Z" fill="#e01b22"/>
<text transform="translate(7.00,643.50) scale(0.960,1)" font-size="17.4" font-weight="bold" text-anchor="start" fill="#111" stroke="#111" stroke-width="0.25">F</text>
<text transform="translate(113.30,644.60)" font-size="13.0" font-weight="bold" text-anchor="start" fill="#111" stroke="#111" stroke-width="0.25">H3K27ac</text>
<line x1="37.00" y1="656.50" x2="37.00" y2="749.00" stroke="#444" stroke-width="0.8"/>
<line x1="36.60" y1="748.50" x2="250.00" y2="748.50" stroke="#222" stroke-width="1.1"/>
<text transform="translate(32.60,663.10) scale(0.860,1)" font-size="9.6" text-anchor="end" fill="#222" stroke="#222" stroke-width="0.25">2.5</text>
<line x1="35.00" y1="657.50" x2="37.00" y2="657.50" stroke="#444" stroke-width="0.8"/>
<text transform="translate(32.60,679.90) scale(0.860,1)" font-size="9.6" text-anchor="end" fill="#222" stroke="#222" stroke-width="0.25">2</text>
<line x1="35.00" y1="675.50" x2="37.00" y2="675.50" stroke="#444" stroke-width="0.8"/>
<text transform="translate(32.60,698.30) scale(0.860,1)" font-size="9.6" text-anchor="end" fill="#222" stroke="#222" stroke-width="0.25">1.5</text>
<line x1="35.00" y1="693.80" x2="37.00" y2="693.80" stroke="#444" stroke-width="0.8"/>
<text transform="translate(32.60,716.30) scale(0.860,1)" font-size="9.6" text-anchor="end" fill="#222" stroke="#222" stroke-width="0.25">1</text>
<line x1="35.00" y1="712.20" x2="37.00" y2="712.20" stroke="#444" stroke-width="0.8"/>
<text transform="translate(32.60,734.70) scale(0.860,1)" font-size="9.6" text-anchor="end" fill="#222" stroke="#222" stroke-width="0.25">0.5</text>
<line x1="35.00" y1="730.50" x2="37.00" y2="730.50" stroke="#444" stroke-width="0.8"/>
<text transform="translate(32.60,752.30) scale(0.860,1)" font-size="9.6" text-anchor="end" fill="#222" stroke="#222" stroke-width="0.25">0</text>
<line x1="35.00" y1="748.80" x2="37.00" y2="748.80" stroke="#444" stroke-width="0.8"/>
<text transform="translate(15.00,703.90) rotate(-90)" font-size="9.8" text-anchor="middle" fill="#222" stroke="#222" stroke-width="0.25">Relative signal</text>
<path d="M122.20 748.50 V652.50 H128.80" fill="none" stroke="#555" stroke-width="0.8"/>
<path d="M127.90 649.30 L134.80 652.50 L127.90 655.70 Z" fill="#000"/>
<rect x="39.40" y="730.70" width="7.10" height="17.80" fill="#000"/>
<line x1="42.95" y1="730.70" x2="42.95" y2="728.70" stroke="#333" stroke-width="0.9"/>
<line x1="40.85" y1="728.70" x2="45.05" y2="728.70" stroke="#333" stroke-width="0.9"/>
<line x1="42.95" y1="748.50" x2="42.95" y2="751.70" stroke="#666" stroke-width="0.7"/>
<text transform="translate(45.75,753.80) rotate(-90) scale(0.955,1)" font-size="9.8" text-anchor="end" fill="#222" stroke="#222" stroke-width="0.25">–<tspan dx="0.7">13.22</tspan></text>
<rect x="49.95" y="742.50" width="7.10" height="6.00" fill="#000"/>
<line x1="53.50" y1="748.50" x2="53.50" y2="751.70" stroke="#666" stroke-width="0.7"/>
<text transform="translate(56.30,753.80) rotate(-90) scale(0.955,1)" font-size="9.8" text-anchor="end" fill="#222" stroke="#222" stroke-width="0.25">–<tspan dx="0.7">12.63</tspan></text>
<rect x="60.50" y="729.50" width="7.10" height="19.00" fill="#000"/>
<line x1="64.05" y1="729.50" x2="64.05" y2="728.60" stroke="#333" stroke-width="0.9"/>
<line x1="61.95" y1="728.60" x2="66.15" y2="728.60" stroke="#333" stroke-width="0.9"/>
<line x1="64.05" y1="748.50" x2="64.05" y2="751.70" stroke="#666" stroke-width="0.7"/>
<text transform="translate(66.85,753.80) rotate(-90) scale(0.955,1)" font-size="9.8" text-anchor="end" fill="#222" stroke="#222" stroke-width="0.25">–<tspan dx="0.7">12.06</tspan></text>
<rect x="71.05" y="735.70" width="7.10" height="12.80" fill="#000"/>
<line x1="74.60" y1="735.70" x2="74.60" y2="734.20" stroke="#333" stroke-width="0.9"/>
<line x1="72.50" y1="734.20" x2="76.70" y2="734.20" stroke="#333" stroke-width="0.9"/>
<line x1="74.60" y1="748.50" x2="74.60" y2="751.70" stroke="#666" stroke-width="0.7"/>
<text transform="translate(77.40,753.80) rotate(-90) scale(0.955,1)" font-size="9.8" text-anchor="end" fill="#222" stroke="#222" stroke-width="0.25">–<tspan dx="0.7">3.82</tspan></text>
<rect x="81.60" y="733.00" width="7.10" height="15.50" fill="#000"/>
<line x1="85.15" y1="733.00" x2="85.15" y2="731.20" stroke="#333" stroke-width="0.9"/>
<line x1="83.05" y1="731.20" x2="87.25" y2="731.20" stroke="#333" stroke-width="0.9"/>
<line x1="85.15" y1="748.50" x2="85.15" y2="751.70" stroke="#666" stroke-width="0.7"/>
<text transform="translate(87.95,753.80) rotate(-90) scale(0.955,1)" font-size="9.8" text-anchor="end" fill="#222" stroke="#222" stroke-width="0.25">–<tspan dx="0.7">3.01</tspan></text>
<rect x="92.15" y="735.00" width="7.10" height="13.50" fill="#000"/>
<line x1="95.70" y1="735.00" x2="95.70" y2="733.70" stroke="#333" stroke-width="0.9"/>
<line x1="93.60" y1="733.70" x2="97.80" y2="733.70" stroke="#333" stroke-width="0.9"/>
<line x1="95.70" y1="748.50" x2="95.70" y2="751.70" stroke="#666" stroke-width="0.7"/>
<text transform="translate(98.50,753.80) rotate(-90) scale(0.955,1)" font-size="9.8" text-anchor="end" fill="#222" stroke="#222" stroke-width="0.25">–<tspan dx="0.7">1.79</tspan></text>
<rect x="102.70" y="732.50" width="7.10" height="16.00" fill="#000"/>
<line x1="106.25" y1="732.50" x2="106.25" y2="727.00" stroke="#333" stroke-width="0.9"/>
<line x1="104.15" y1="727.00" x2="108.35" y2="727.00" stroke="#333" stroke-width="0.9"/>
<line x1="106.25" y1="748.50" x2="106.25" y2="751.70" stroke="#666" stroke-width="0.7"/>
<text transform="translate(109.05,753.80) rotate(-90) scale(0.955,1)" font-size="9.8" text-anchor="end" fill="#222" stroke="#222" stroke-width="0.25">–<tspan dx="0.7">1.02</tspan></text>
<rect x="113.25" y="683.60" width="7.10" height="64.90" fill="#000"/>
<line x1="116.80" y1="683.60" x2="116.80" y2="669.80" stroke="#333" stroke-width="0.9"/>
<line x1="114.70" y1="669.80" x2="118.90" y2="669.80" stroke="#333" stroke-width="0.9"/>
<line x1="116.80" y1="748.50" x2="116.80" y2="751.70" stroke="#666" stroke-width="0.7"/>
<text transform="translate(119.60,753.80) rotate(-90) scale(0.955,1)" font-size="9.8" text-anchor="end" fill="#222" stroke="#222" stroke-width="0.25">–<tspan dx="0.7">0.32</tspan></text>
<rect x="123.80" y="732.30" width="7.10" height="16.20" fill="#000"/>
<line x1="127.35" y1="732.30" x2="127.35" y2="723.60" stroke="#333" stroke-width="0.9"/>
<line x1="125.25" y1="723.60" x2="129.45" y2="723.60" stroke="#333" stroke-width="0.9"/>
<line x1="127.35" y1="748.50" x2="127.35" y2="751.70" stroke="#666" stroke-width="0.7"/>
<text transform="translate(130.15,753.80) rotate(-90) scale(0.955,1)" font-size="9.8" text-anchor="end" fill="#222" stroke="#222" stroke-width="0.25">+<tspan dx="0.7">0.05</tspan></text>
<rect x="134.35" y="712.40" width="7.10" height="36.10" fill="#000"/>
<line x1="137.90" y1="712.40" x2="137.90" y2="705.80" stroke="#333" stroke-width="0.9"/>
<line x1="135.80" y1="705.80" x2="140.00" y2="705.80" stroke="#333" stroke-width="0.9"/>
<line x1="137.90" y1="748.50" x2="137.90" y2="751.70" stroke="#666" stroke-width="0.7"/>
<text transform="translate(140.70,753.80) rotate(-90) scale(0.955,1)" font-size="9.8" text-anchor="end" fill="#222" stroke="#222" stroke-width="0.25">+<tspan dx="0.7">1.22</tspan></text>
<rect x="144.90" y="712.10" width="7.10" height="36.40" fill="#000"/>
<line x1="148.45" y1="748.50" x2="148.45" y2="751.70" stroke="#666" stroke-width="0.7"/>
<text transform="translate(151.25,753.80) rotate(-90) scale(0.955,1)" font-size="9.8" text-anchor="end" fill="#222" stroke="#222" stroke-width="0.25">+<tspan dx="0.7">1.89</tspan></text>
<rect x="155.45" y="726.00" width="7.10" height="22.50" fill="#000"/>
<line x1="159.00" y1="726.00" x2="159.00" y2="723.00" stroke="#333" stroke-width="0.9"/>
<line x1="156.90" y1="723.00" x2="161.10" y2="723.00" stroke="#333" stroke-width="0.9"/>
<line x1="159.00" y1="748.50" x2="159.00" y2="751.70" stroke="#666" stroke-width="0.7"/>
<text transform="translate(161.80,753.80) rotate(-90) scale(0.955,1)" font-size="9.8" text-anchor="end" fill="#222" stroke="#222" stroke-width="0.25">+<tspan dx="0.7">3.23</tspan></text>
<rect x="166.00" y="726.50" width="7.10" height="22.00" fill="#000"/>
<line x1="169.55" y1="726.50" x2="169.55" y2="723.00" stroke="#333" stroke-width="0.9"/>
<line x1="167.45" y1="723.00" x2="171.65" y2="723.00" stroke="#333" stroke-width="0.9"/>
<line x1="169.55" y1="748.50" x2="169.55" y2="751.70" stroke="#666" stroke-width="0.7"/>
<text transform="translate(172.35,753.80) rotate(-90) scale(0.955,1)" font-size="9.8" text-anchor="end" fill="#222" stroke="#222" stroke-width="0.25">+<tspan dx="0.7">4.16</tspan></text>
<rect x="176.55" y="729.70" width="7.10" height="18.80" fill="#000"/>
<line x1="180.10" y1="729.70" x2="180.10" y2="727.40" stroke="#333" stroke-width="0.9"/>
<line x1="178.00" y1="727.40" x2="182.20" y2="727.40" stroke="#333" stroke-width="0.9"/>
<line x1="180.10" y1="748.50" x2="180.10" y2="751.70" stroke="#666" stroke-width="0.7"/>
<text transform="translate(182.90,753.80) rotate(-90) scale(0.955,1)" font-size="9.8" text-anchor="end" fill="#222" stroke="#222" stroke-width="0.25">+<tspan dx="0.7">5.63</tspan></text>
<rect x="187.10" y="730.30" width="7.10" height="18.20" fill="#000"/>
<line x1="190.65" y1="730.30" x2="190.65" y2="729.00" stroke="#333" stroke-width="0.9"/>
<line x1="188.55" y1="729.00" x2="192.75" y2="729.00" stroke="#333" stroke-width="0.9"/>
<line x1="190.65" y1="748.50" x2="190.65" y2="751.70" stroke="#666" stroke-width="0.7"/>
<text transform="translate(193.45,753.80) rotate(-90) scale(0.955,1)" font-size="9.8" text-anchor="end" fill="#222" stroke="#222" stroke-width="0.25">+<tspan dx="0.7">6.52</tspan></text>
<rect x="197.65" y="701.40" width="7.10" height="47.10" fill="#000"/>
<line x1="201.20" y1="701.40" x2="201.20" y2="690.00" stroke="#333" stroke-width="0.9"/>
<line x1="199.10" y1="690.00" x2="203.30" y2="690.00" stroke="#333" stroke-width="0.9"/>
<line x1="201.20" y1="748.50" x2="201.20" y2="751.70" stroke="#666" stroke-width="0.7"/>
<text transform="translate(204.00,753.80) rotate(-90) scale(0.955,1)" font-size="9.8" text-anchor="end" fill="#222" stroke="#222" stroke-width="0.25">+<tspan dx="0.7">7.17</tspan></text>
<rect x="208.20" y="723.60" width="7.10" height="24.90" fill="#000"/>
<line x1="211.75" y1="723.60" x2="211.75" y2="719.30" stroke="#333" stroke-width="0.9"/>
<line x1="209.65" y1="719.30" x2="213.85" y2="719.30" stroke="#333" stroke-width="0.9"/>
<line x1="211.75" y1="748.50" x2="211.75" y2="751.70" stroke="#666" stroke-width="0.7"/>
<text transform="translate(214.55,753.80) rotate(-90) scale(0.955,1)" font-size="9.8" text-anchor="end" fill="#222" stroke="#222" stroke-width="0.25">+<tspan dx="0.7">7.56</tspan></text>
<rect x="218.75" y="741.00" width="7.10" height="7.50" fill="#000"/>
<line x1="222.30" y1="741.00" x2="222.30" y2="740.00" stroke="#333" stroke-width="0.9"/>
<line x1="220.20" y1="740.00" x2="224.40" y2="740.00" stroke="#333" stroke-width="0.9"/>
<line x1="222.30" y1="748.50" x2="222.30" y2="751.70" stroke="#666" stroke-width="0.7"/>
<text transform="translate(225.10,753.80) rotate(-90) scale(0.955,1)" font-size="9.8" text-anchor="end" fill="#222" stroke="#222" stroke-width="0.25">+<tspan dx="0.7">7.95</tspan></text>
<rect x="229.30" y="717.30" width="7.10" height="31.20" fill="#000"/>
<line x1="232.85" y1="717.30" x2="232.85" y2="711.00" stroke="#333" stroke-width="0.9"/>
<line x1="230.75" y1="711.00" x2="234.95" y2="711.00" stroke="#333" stroke-width="0.9"/>
<line x1="232.85" y1="748.50" x2="232.85" y2="751.70" stroke="#666" stroke-width="0.7"/>
<text transform="translate(235.95,753.80) rotate(-90) scale(0.955,1)" font-size="9.8" text-anchor="end" fill="#222" stroke="#222" stroke-width="0.25">+<tspan dx="0.7">8.62</tspan></text>
<rect x="239.85" y="735.50" width="7.10" height="13.00" fill="#000"/>
<line x1="243.40" y1="735.50" x2="243.40" y2="734.30" stroke="#333" stroke-width="0.9"/>
<line x1="241.30" y1="734.30" x2="245.50" y2="734.30" stroke="#333" stroke-width="0.9"/>
<line x1="243.40" y1="748.50" x2="243.40" y2="751.70" stroke="#666" stroke-width="0.7"/>
<text transform="translate(247.60,753.80) rotate(-90) scale(0.955,1)" font-size="9.8" text-anchor="end" fill="#222" stroke="#222" stroke-width="0.25">+<tspan dx="0.7">9.52</tspan></text>
<line x1="52.50" y1="652.40" x2="52.50" y2="661.80" stroke="#e01b22" stroke-width="1.8"/>
<path d="M49.30 660.80 L55.70 660.80 L52.50 667.60 Z" fill="#e01b22"/>
<line x1="105.50" y1="652.40" x2="105.50" y2="661.80" stroke="#e01b22" stroke-width="1.8"/>
<path d="M102.30 660.80 L108.70 660.80 L105.50 667.60 Z" fill="#e01b22"/>
<line x1="190.20" y1="652.40" x2="190.20" y2="661.80" stroke="#e01b22" stroke-width="1.8"/>
<path d="M187.00 660.80 L193.40 660.80 L190.20 667.60 Z" fill="#e01b22"/>
<line x1="211.00" y1="652.40" x2="211.00" y2="661.80" stroke="#e01b22" stroke-width="1.8"/>
<path d="M207.80 660.80 L214.20 660.80 L211.00 667.60 Z" fill="#e01b22"/>
<line x1="222.00" y1="652.40" x2="222.00" y2="661.80" stroke="#e01b22" stroke-width="1.8"/>
<path d="M218.80 660.80 L225.20 660.80 L222.00 667.60 Z" fill="#e01b22"/>
<text transform="translate(265.40,643.60) scale(0.960,1)" font-size="17.4" font-weight="bold" text-anchor="start" fill="#111" stroke="#111" stroke-width="0.25">G</text>
<text transform="translate(373.50,644.50)" font-size="12.9" font-weight="bold" text-anchor="start" fill="#111" stroke="#111" stroke-width="0.25">p300/CBP</text>
<line x1="301.20" y1="656.20" x2="301.20" y2="749.00" stroke="#444" stroke-width="0.8"/>
<line x1="300.80" y1="748.50" x2="513.00" y2="748.50" stroke="#222" stroke-width="1.1"/>
<text transform="translate(295.90,662.60) scale(0.860,1)" font-size="9.6" text-anchor="end" fill="#222" stroke="#222" stroke-width="0.25">2.5</text>
<line x1="299.20" y1="656.90" x2="301.20" y2="656.90" stroke="#444" stroke-width="0.8"/>
<text transform="translate(295.90,679.90) scale(0.860,1)" font-size="9.6" text-anchor="end" fill="#222" stroke="#222" stroke-width="0.25">2</text>
<line x1="299.20" y1="675.10" x2="301.20" y2="675.10" stroke="#444" stroke-width="0.8"/>
<text transform="translate(295.90,698.30) scale(0.860,1)" font-size="9.6" text-anchor="end" fill="#222" stroke="#222" stroke-width="0.25">1.5</text>
<line x1="299.20" y1="693.40" x2="301.20" y2="693.40" stroke="#444" stroke-width="0.8"/>
<text transform="translate(295.90,716.30) scale(0.860,1)" font-size="9.6" text-anchor="end" fill="#222" stroke="#222" stroke-width="0.25">1</text>
<line x1="299.20" y1="711.70" x2="301.20" y2="711.70" stroke="#444" stroke-width="0.8"/>
<text transform="translate(295.90,734.70) scale(0.860,1)" font-size="9.6" text-anchor="end" fill="#222" stroke="#222" stroke-width="0.25">0.5</text>
<line x1="299.20" y1="730.10" x2="301.20" y2="730.10" stroke="#444" stroke-width="0.8"/>
<text transform="translate(295.90,752.10) scale(0.860,1)" font-size="9.6" text-anchor="end" fill="#222" stroke="#222" stroke-width="0.25">0</text>
<line x1="299.20" y1="748.40" x2="301.20" y2="748.40" stroke="#444" stroke-width="0.8"/>
<text transform="translate(278.30,700.20) rotate(-90)" font-size="9.8" text-anchor="middle" fill="#222" stroke="#222" stroke-width="0.25">Relative signal</text>
<path d="M385.40 748.50 V652.40 H392.00" fill="none" stroke="#555" stroke-width="0.8"/>
<path d="M391.10 649.20 L398.00 652.40 L391.10 655.60 Z" fill="#000"/>
<rect x="303.00" y="746.70" width="7.10" height="1.80" fill="#000"/>
<line x1="306.55" y1="746.70" x2="306.55" y2="746.00" stroke="#333" stroke-width="0.9"/>
<line x1="304.45" y1="746.00" x2="308.65" y2="746.00" stroke="#333" stroke-width="0.9"/>
<line x1="306.55" y1="748.50" x2="306.55" y2="751.70" stroke="#666" stroke-width="0.7"/>
<text transform="translate(309.35,753.40) rotate(-90) scale(0.955,1)" font-size="9.8" text-anchor="end" fill="#222" stroke="#222" stroke-width="0.25">–<tspan dx="0.7">13.22</tspan></text>
<rect x="313.60" y="734.20" width="7.10" height="14.30" fill="#000"/>
<line x1="317.15" y1="734.20" x2="317.15" y2="730.00" stroke="#333" stroke-width="0.9"/>
<line x1="315.05" y1="730.00" x2="319.25" y2="730.00" stroke="#333" stroke-width="0.9"/>
<line x1="317.15" y1="748.50" x2="317.15" y2="751.70" stroke="#666" stroke-width="0.7"/>
<text transform="translate(319.95,753.40) rotate(-90) scale(0.955,1)" font-size="9.8" text-anchor="end" fill="#222" stroke="#222" stroke-width="0.25">–<tspan dx="0.7">12.63</tspan></text>
<rect x="324.20" y="743.70" width="7.10" height="4.80" fill="#000"/>
<line x1="327.75" y1="743.70" x2="327.75" y2="742.00" stroke="#333" stroke-width="0.9"/>
<line x1="325.65" y1="742.00" x2="329.85" y2="742.00" stroke="#333" stroke-width="0.9"/>
<line x1="327.75" y1="748.50" x2="327.75" y2="751.70" stroke="#666" stroke-width="0.7"/>
<text transform="translate(330.55,753.40) rotate(-90) scale(0.955,1)" font-size="9.8" text-anchor="end" fill="#222" stroke="#222" stroke-width="0.25">–<tspan dx="0.7">12.06</tspan></text>
<rect x="334.80" y="745.50" width="7.10" height="3.00" fill="#000"/>
<line x1="338.35" y1="745.50" x2="338.35" y2="744.80" stroke="#333" stroke-width="0.9"/>
<line x1="336.25" y1="744.80" x2="340.45" y2="744.80" stroke="#333" stroke-width="0.9"/>
<line x1="338.35" y1="748.50" x2="338.35" y2="751.70" stroke="#666" stroke-width="0.7"/>
<text transform="translate(341.15,753.40) rotate(-90) scale(0.955,1)" font-size="9.8" text-anchor="end" fill="#222" stroke="#222" stroke-width="0.25">–<tspan dx="0.7">3.82</tspan></text>
<rect x="345.40" y="743.20" width="7.10" height="5.30" fill="#000"/>
<line x1="348.95" y1="743.20" x2="348.95" y2="741.20" stroke="#333" stroke-width="0.9"/>
<line x1="346.85" y1="741.20" x2="351.05" y2="741.20" stroke="#333" stroke-width="0.9"/>
<line x1="348.95" y1="748.50" x2="348.95" y2="751.70" stroke="#666" stroke-width="0.7"/>
<text transform="translate(351.75,753.40) rotate(-90) scale(0.955,1)" font-size="9.8" text-anchor="end" fill="#222" stroke="#222" stroke-width="0.25">–<tspan dx="0.7">3.01</tspan></text>
<rect x="356.00" y="746.70" width="7.10" height="1.80" fill="#000"/>
<line x1="359.55" y1="746.70" x2="359.55" y2="746.00" stroke="#333" stroke-width="0.9"/>
<line x1="357.45" y1="746.00" x2="361.65" y2="746.00" stroke="#333" stroke-width="0.9"/>
<line x1="359.55" y1="748.50" x2="359.55" y2="751.70" stroke="#666" stroke-width="0.7"/>
<text transform="translate(362.35,753.40) rotate(-90) scale(0.955,1)" font-size="9.8" text-anchor="end" fill="#222" stroke="#222" stroke-width="0.25">–<tspan dx="0.7">1.79</tspan></text>
<rect x="366.60" y="732.50" width="7.10" height="16.00" fill="#000"/>
<line x1="370.15" y1="732.50" x2="370.15" y2="730.00" stroke="#333" stroke-width="0.9"/>
<line x1="368.05" y1="730.00" x2="372.25" y2="730.00" stroke="#333" stroke-width="0.9"/>
<line x1="370.15" y1="748.50" x2="370.15" y2="751.70" stroke="#666" stroke-width="0.7"/>
<text transform="translate(372.95,753.40) rotate(-90) scale(0.955,1)" font-size="9.8" text-anchor="end" fill="#222" stroke="#222" stroke-width="0.25">–<tspan dx="0.7">1.02</tspan></text>
<rect x="377.20" y="735.40" width="7.10" height="13.10" fill="#000"/>
<line x1="380.75" y1="735.40" x2="380.75" y2="732.40" stroke="#333" stroke-width="0.9"/>
<line x1="378.65" y1="732.40" x2="382.85" y2="732.40" stroke="#333" stroke-width="0.9"/>
<line x1="380.75" y1="748.50" x2="380.75" y2="751.70" stroke="#666" stroke-width="0.7"/>
<text transform="translate(383.55,753.40) rotate(-90) scale(0.955,1)" font-size="9.8" text-anchor="end" fill="#222" stroke="#222" stroke-width="0.25">–<tspan dx="0.7">0.32</tspan></text>
<rect x="387.80" y="744.10" width="7.10" height="4.40" fill="#000"/>
<line x1="391.35" y1="744.10" x2="391.35" y2="741.80" stroke="#333" stroke-width="0.9"/>
<line x1="389.25" y1="741.80" x2="393.45" y2="741.80" stroke="#333" stroke-width="0.9"/>
<line x1="391.35" y1="748.50" x2="391.35" y2="751.70" stroke="#666" stroke-width="0.7"/>
<text transform="translate(394.15,753.40) rotate(-90) scale(0.955,1)" font-size="9.8" text-anchor="end" fill="#222" stroke="#222" stroke-width="0.25">+<tspan dx="0.7">0.05</tspan></text>
<rect x="398.40" y="745.30" width="7.10" height="3.20" fill="#000"/>
<line x1="401.95" y1="745.30" x2="401.95" y2="744.00" stroke="#333" stroke-width="0.9"/>
<line x1="399.85" y1="744.00" x2="404.05" y2="744.00" stroke="#333" stroke-width="0.9"/>
<line x1="401.95" y1="748.50" x2="401.95" y2="751.70" stroke="#666" stroke-width="0.7"/>
<text transform="translate(404.75,753.40) rotate(-90) scale(0.955,1)" font-size="9.8" text-anchor="end" fill="#222" stroke="#222" stroke-width="0.25">+<tspan dx="0.7">1.22</tspan></text>
<rect x="409.00" y="744.70" width="7.10" height="3.80" fill="#000"/>
<line x1="412.55" y1="744.70" x2="412.55" y2="743.50" stroke="#333" stroke-width="0.9"/>
<line x1="410.45" y1="743.50" x2="414.65" y2="743.50" stroke="#333" stroke-width="0.9"/>
<line x1="412.55" y1="748.50" x2="412.55" y2="751.70" stroke="#666" stroke-width="0.7"/>
<text transform="translate(415.35,753.40) rotate(-90) scale(0.955,1)" font-size="9.8" text-anchor="end" fill="#222" stroke="#222" stroke-width="0.25">+<tspan dx="0.7">1.89</tspan></text>
<rect x="419.60" y="743.30" width="7.10" height="5.20" fill="#000"/>
<line x1="423.15" y1="743.30" x2="423.15" y2="742.00" stroke="#333" stroke-width="0.9"/>
<line x1="421.05" y1="742.00" x2="425.25" y2="742.00" stroke="#333" stroke-width="0.9"/>
<line x1="423.15" y1="748.50" x2="423.15" y2="751.70" stroke="#666" stroke-width="0.7"/>
<text transform="translate(425.95,753.40) rotate(-90) scale(0.955,1)" font-size="9.8" text-anchor="end" fill="#222" stroke="#222" stroke-width="0.25">+<tspan dx="0.7">3.23</tspan></text>
<rect x="430.20" y="746.70" width="7.10" height="1.80" fill="#000"/>
<line x1="433.75" y1="746.70" x2="433.75" y2="746.00" stroke="#333" stroke-width="0.9"/>
<line x1="431.65" y1="746.00" x2="435.85" y2="746.00" stroke="#333" stroke-width="0.9"/>
<line x1="433.75" y1="748.50" x2="433.75" y2="751.70" stroke="#666" stroke-width="0.7"/>
<text transform="translate(436.55,753.40) rotate(-90) scale(0.955,1)" font-size="9.8" text-anchor="end" fill="#222" stroke="#222" stroke-width="0.25">+<tspan dx="0.7">4.16</tspan></text>
<rect x="440.80" y="742.70" width="7.10" height="5.80" fill="#000"/>
<line x1="444.35" y1="742.70" x2="444.35" y2="741.00" stroke="#333" stroke-width="0.9"/>
<line x1="442.25" y1="741.00" x2="446.45" y2="741.00" stroke="#333" stroke-width="0.9"/>
<line x1="444.35" y1="748.50" x2="444.35" y2="751.70" stroke="#666" stroke-width="0.7"/>
<text transform="translate(447.15,753.40) rotate(-90) scale(0.955,1)" font-size="9.8" text-anchor="end" fill="#222" stroke="#222" stroke-width="0.25">+<tspan dx="0.7">5.63</tspan></text>
<rect x="451.40" y="730.30" width="7.10" height="18.20" fill="#000"/>
<line x1="454.95" y1="730.30" x2="454.95" y2="724.50" stroke="#333" stroke-width="0.9"/>
<line x1="452.85" y1="724.50" x2="457.05" y2="724.50" stroke="#333" stroke-width="0.9"/>
<line x1="454.95" y1="748.50" x2="454.95" y2="751.70" stroke="#666" stroke-width="0.7"/>
<text transform="translate(457.75,753.40) rotate(-90) scale(0.955,1)" font-size="9.8" text-anchor="end" fill="#222" stroke="#222" stroke-width="0.25">+<tspan dx="0.7">6.52</tspan></text>
<rect x="462.00" y="721.60" width="7.10" height="26.90" fill="#000"/>
<line x1="465.55" y1="721.60" x2="465.55" y2="718.70" stroke="#333" stroke-width="0.9"/>
<line x1="463.45" y1="718.70" x2="467.65" y2="718.70" stroke="#333" stroke-width="0.9"/>
<line x1="465.55" y1="748.50" x2="465.55" y2="751.70" stroke="#666" stroke-width="0.7"/>
<text transform="translate(468.35,753.40) rotate(-90) scale(0.955,1)" font-size="9.8" text-anchor="end" fill="#222" stroke="#222" stroke-width="0.25">+<tspan dx="0.7">7.17</tspan></text>
<rect x="472.60" y="675.50" width="7.10" height="73.00" fill="#000"/>
<line x1="476.15" y1="675.50" x2="476.15" y2="669.10" stroke="#333" stroke-width="0.9"/>
<line x1="474.05" y1="669.10" x2="478.25" y2="669.10" stroke="#333" stroke-width="0.9"/>
<line x1="476.15" y1="748.50" x2="476.15" y2="751.70" stroke="#666" stroke-width="0.7"/>
<text transform="translate(478.95,753.40) rotate(-90) scale(0.955,1)" font-size="9.8" text-anchor="end" fill="#222" stroke="#222" stroke-width="0.25">+<tspan dx="0.7">7.56</tspan></text>
<rect x="483.20" y="711.50" width="7.10" height="37.00" fill="#000"/>
<line x1="486.75" y1="748.50" x2="486.75" y2="751.70" stroke="#666" stroke-width="0.7"/>
<text transform="translate(489.55,753.40) rotate(-90) scale(0.955,1)" font-size="9.8" text-anchor="end" fill="#222" stroke="#222" stroke-width="0.25">+<tspan dx="0.7">7.95</tspan></text>
<rect x="493.80" y="739.00" width="7.10" height="9.50" fill="#000"/>
<line x1="497.35" y1="739.00" x2="497.35" y2="737.00" stroke="#333" stroke-width="0.9"/>
<line x1="495.25" y1="737.00" x2="499.45" y2="737.00" stroke="#333" stroke-width="0.9"/>
<line x1="497.35" y1="748.50" x2="497.35" y2="751.70" stroke="#666" stroke-width="0.7"/>
<text transform="translate(500.45,753.40) rotate(-90) scale(0.955,1)" font-size="9.8" text-anchor="end" fill="#222" stroke="#222" stroke-width="0.25">+<tspan dx="0.7">8.62</tspan></text>
<rect x="504.40" y="741.00" width="7.10" height="7.50" fill="#000"/>
<line x1="507.95" y1="741.00" x2="507.95" y2="740.00" stroke="#333" stroke-width="0.9"/>
<line x1="505.85" y1="740.00" x2="510.05" y2="740.00" stroke="#333" stroke-width="0.9"/>
<line x1="507.95" y1="748.50" x2="507.95" y2="751.70" stroke="#666" stroke-width="0.7"/>
<text transform="translate(512.15,753.40) rotate(-90) scale(0.955,1)" font-size="9.8" text-anchor="end" fill="#222" stroke="#222" stroke-width="0.25">+<tspan dx="0.7">9.52</tspan></text>
<line x1="317.00" y1="652.00" x2="317.00" y2="661.10" stroke="#e01b22" stroke-width="1.8"/>
<path d="M313.80 660.10 L320.20 660.10 L317.00 666.90 Z" fill="#e01b22"/>
<line x1="368.70" y1="652.00" x2="368.70" y2="661.10" stroke="#e01b22" stroke-width="1.8"/>
<path d="M365.50 660.10 L371.90 660.10 L368.70 666.90 Z" fill="#e01b22"/>
<line x1="451.60" y1="652.00" x2="451.60" y2="661.10" stroke="#e01b22" stroke-width="1.8"/>
<path d="M448.40 660.10 L454.80 660.10 L451.60 666.90 Z" fill="#e01b22"/>
<line x1="471.00" y1="652.00" x2="471.00" y2="661.10" stroke="#e01b22" stroke-width="1.8"/>
<path d="M467.80 660.10 L474.20 660.10 L471.00 666.90 Z" fill="#e01b22"/>
<line x1="481.90" y1="652.00" x2="481.90" y2="661.10" stroke="#e01b22" stroke-width="1.8"/>
<path d="M478.70 660.10 L485.10 660.10 L481.90 666.90 Z" fill="#e01b22"/>
</svg>
</body>
</html>
